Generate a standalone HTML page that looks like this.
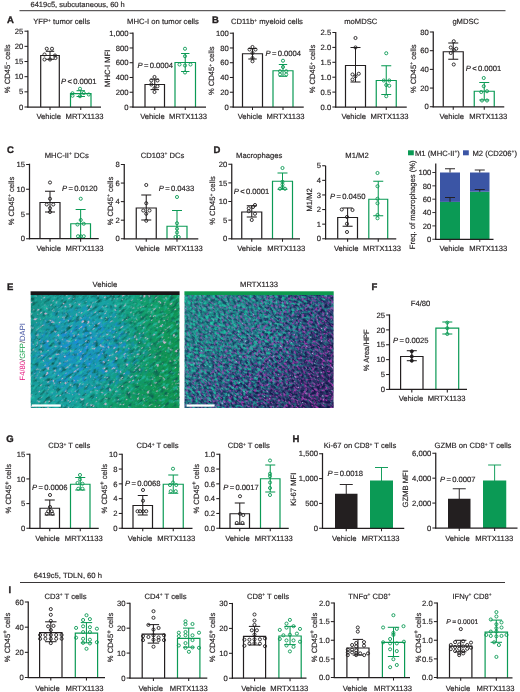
<!DOCTYPE html>
<html lang="en"><head><meta charset="utf-8"><title>Figure</title>
<style>
html,body{margin:0;padding:0;background:#fff;}
body{width:520px;height:692px;overflow:hidden;}
svg{display:block;text-rendering:geometricPrecision;font-family:"Liberation Sans",Arial,Helvetica,sans-serif;}
</style></head><body>
<svg width="520" height="692" viewBox="0 0 520 692">
<rect width="520" height="692" fill="#fff"/>
<text x="30.50" y="6.60" text-anchor="start" font-size="7.5" fill="#231f20" stroke="#231f20" stroke-width="0.17">6419c5, subcutaneous, 60 h</text>
<line x1="19.50" y1="10.70" x2="505.50" y2="10.70" stroke="#231f20" stroke-width="0.9"/>
<text x="6.90" y="23.00" text-anchor="start" font-size="9.5" fill="#231f20" font-weight="bold" stroke="#231f20" stroke-width="0.35">A</text>
<text x="212.00" y="23.00" text-anchor="start" font-size="9.5" fill="#231f20" font-weight="bold" stroke="#231f20" stroke-width="0.35">B</text>
<path d="M40.70 107.00V55.50H59.30V107.00" fill="#fff" stroke="#231f20" stroke-width="1.2"/>
<line x1="50.00" y1="107.00" x2="50.00" y2="110.00" stroke="#231f20" stroke-width="1.05"/>
<line x1="50.00" y1="51.30" x2="50.00" y2="59.30" stroke="#231f20" stroke-width="1.05"/>
<line x1="45.80" y1="51.30" x2="54.20" y2="51.30" stroke="#231f20" stroke-width="1.05"/>
<line x1="45.80" y1="59.30" x2="54.20" y2="59.30" stroke="#231f20" stroke-width="1.05"/>
<circle cx="46.75" cy="48.75" r="1.55" fill="none" stroke="#231f20" stroke-width="0.9"/>
<circle cx="52.00" cy="48.75" r="1.55" fill="none" stroke="#231f20" stroke-width="0.9"/>
<circle cx="44.50" cy="54.50" r="1.55" fill="none" stroke="#231f20" stroke-width="0.9"/>
<circle cx="55.00" cy="55.50" r="1.55" fill="none" stroke="#231f20" stroke-width="0.9"/>
<circle cx="44.50" cy="59.50" r="1.55" fill="none" stroke="#231f20" stroke-width="0.9"/>
<circle cx="50.00" cy="59.50" r="1.55" fill="none" stroke="#231f20" stroke-width="0.9"/>
<circle cx="55.50" cy="58.00" r="1.55" fill="none" stroke="#231f20" stroke-width="0.9"/>
<path d="M70.50 107.00V93.70H91.00V107.00" fill="#fff" stroke="#0b9a55" stroke-width="1.2"/>
<line x1="80.75" y1="107.00" x2="80.75" y2="110.00" stroke="#231f20" stroke-width="1.05"/>
<line x1="80.75" y1="90.70" x2="80.75" y2="96.50" stroke="#0b9a55" stroke-width="1.05"/>
<line x1="76.55" y1="90.70" x2="84.95" y2="90.70" stroke="#0b9a55" stroke-width="1.05"/>
<line x1="76.55" y1="96.50" x2="84.95" y2="96.50" stroke="#0b9a55" stroke-width="1.05"/>
<circle cx="80.00" cy="88.75" r="1.55" fill="none" stroke="#0b9a55" stroke-width="0.9"/>
<circle cx="72.50" cy="93.25" r="1.55" fill="none" stroke="#0b9a55" stroke-width="0.9"/>
<circle cx="83.75" cy="93.00" r="1.55" fill="none" stroke="#0b9a55" stroke-width="0.9"/>
<circle cx="88.75" cy="94.50" r="1.55" fill="none" stroke="#0b9a55" stroke-width="0.9"/>
<circle cx="72.50" cy="95.75" r="1.55" fill="none" stroke="#0b9a55" stroke-width="0.9"/>
<circle cx="80.00" cy="96.25" r="1.55" fill="none" stroke="#0b9a55" stroke-width="0.9"/>
<line x1="27.90" y1="30.60" x2="27.90" y2="107.60" stroke="#231f20" stroke-width="1.25"/>
<line x1="27.30" y1="107.00" x2="101.00" y2="107.00" stroke="#231f20" stroke-width="1.25"/>
<line x1="24.50" y1="107.00" x2="27.90" y2="107.00" stroke="#231f20" stroke-width="1.05"/>
<text x="23.30" y="109.65" text-anchor="end" font-size="7.65" fill="#231f20" stroke="#231f20" stroke-width="0.17">0</text>
<line x1="24.50" y1="91.84" x2="27.90" y2="91.84" stroke="#231f20" stroke-width="1.05"/>
<text x="23.30" y="94.49" text-anchor="end" font-size="7.65" fill="#231f20" stroke="#231f20" stroke-width="0.17">5</text>
<line x1="24.50" y1="76.68" x2="27.90" y2="76.68" stroke="#231f20" stroke-width="1.05"/>
<text x="23.30" y="79.33" text-anchor="end" font-size="7.65" fill="#231f20" stroke="#231f20" stroke-width="0.17">10</text>
<line x1="24.50" y1="61.52" x2="27.90" y2="61.52" stroke="#231f20" stroke-width="1.05"/>
<text x="23.30" y="64.17" text-anchor="end" font-size="7.65" fill="#231f20" stroke="#231f20" stroke-width="0.17">15</text>
<line x1="24.50" y1="46.36" x2="27.90" y2="46.36" stroke="#231f20" stroke-width="1.05"/>
<text x="23.30" y="49.01" text-anchor="end" font-size="7.65" fill="#231f20" stroke="#231f20" stroke-width="0.17">20</text>
<line x1="24.50" y1="31.20" x2="27.90" y2="31.20" stroke="#231f20" stroke-width="1.05"/>
<text x="23.30" y="33.85" text-anchor="end" font-size="7.65" fill="#231f20" stroke="#231f20" stroke-width="0.17">25</text>
<text x="61.60" y="24.30" text-anchor="middle" font-size="7.65" fill="#231f20" stroke="#231f20" stroke-width="0.17">YFP<tspan dy="-2.5" font-size="4.8">+</tspan><tspan dy="2.5" font-size="1">&#8203;</tspan> tumor cells</text>
<text x="10.20" y="68.80" text-anchor="middle" font-size="7.65" fill="#231f20" transform="rotate(-90 10.20 68.80)" stroke="#231f20" stroke-width="0.17">% CD45<tspan dy="-2.5" font-size="4.8">−</tspan><tspan dy="2.5" font-size="1">&#8203;</tspan> cells</text>
<text x="48.70" y="119.30" text-anchor="middle" font-size="7.65" fill="#231f20" stroke="#231f20" stroke-width="0.17">Vehicle</text>
<text x="84.50" y="119.30" text-anchor="middle" font-size="7.65" fill="#231f20" stroke="#231f20" stroke-width="0.17">MRTX1133</text>
<text x="61.00" y="83.60" text-anchor="start" font-size="7.65" fill="#231f20" stroke="#231f20" stroke-width="0.17"><tspan font-style="italic">P</tspan><tspan dx="1.3">&lt;</tspan><tspan dx="1.3">0.0001</tspan></text>
<path d="M145.00 107.00V84.50H164.50V107.00" fill="#fff" stroke="#231f20" stroke-width="1.2"/>
<line x1="154.75" y1="107.00" x2="154.75" y2="110.00" stroke="#231f20" stroke-width="1.05"/>
<line x1="154.75" y1="79.20" x2="154.75" y2="89.60" stroke="#231f20" stroke-width="1.05"/>
<line x1="150.55" y1="79.20" x2="158.95" y2="79.20" stroke="#231f20" stroke-width="1.05"/>
<line x1="150.55" y1="89.60" x2="158.95" y2="89.60" stroke="#231f20" stroke-width="1.05"/>
<circle cx="154.50" cy="77.00" r="1.55" fill="none" stroke="#231f20" stroke-width="0.9"/>
<circle cx="151.25" cy="80.50" r="1.55" fill="none" stroke="#231f20" stroke-width="0.9"/>
<circle cx="157.50" cy="80.50" r="1.55" fill="none" stroke="#231f20" stroke-width="0.9"/>
<circle cx="151.25" cy="84.50" r="1.55" fill="none" stroke="#231f20" stroke-width="0.9"/>
<circle cx="157.50" cy="86.25" r="1.55" fill="none" stroke="#231f20" stroke-width="0.9"/>
<circle cx="154.50" cy="88.25" r="1.55" fill="none" stroke="#231f20" stroke-width="0.9"/>
<circle cx="154.50" cy="92.00" r="1.55" fill="none" stroke="#231f20" stroke-width="0.9"/>
<path d="M175.00 107.00V62.50H195.50V107.00" fill="#fff" stroke="#0b9a55" stroke-width="1.2"/>
<line x1="185.25" y1="107.00" x2="185.25" y2="110.00" stroke="#231f20" stroke-width="1.05"/>
<line x1="185.25" y1="53.50" x2="185.25" y2="71.50" stroke="#0b9a55" stroke-width="1.05"/>
<line x1="181.05" y1="53.50" x2="189.45" y2="53.50" stroke="#0b9a55" stroke-width="1.05"/>
<line x1="181.05" y1="71.50" x2="189.45" y2="71.50" stroke="#0b9a55" stroke-width="1.05"/>
<circle cx="185.00" cy="48.75" r="1.55" fill="none" stroke="#0b9a55" stroke-width="0.9"/>
<circle cx="185.00" cy="56.25" r="1.55" fill="none" stroke="#0b9a55" stroke-width="0.9"/>
<circle cx="179.50" cy="64.50" r="1.55" fill="none" stroke="#0b9a55" stroke-width="0.9"/>
<circle cx="185.00" cy="65.50" r="1.55" fill="none" stroke="#0b9a55" stroke-width="0.9"/>
<circle cx="190.50" cy="64.50" r="1.55" fill="none" stroke="#0b9a55" stroke-width="0.9"/>
<circle cx="185.00" cy="72.50" r="1.55" fill="none" stroke="#0b9a55" stroke-width="0.9"/>
<line x1="133.00" y1="32.60" x2="133.00" y2="107.60" stroke="#231f20" stroke-width="1.25"/>
<line x1="132.40" y1="107.00" x2="206.00" y2="107.00" stroke="#231f20" stroke-width="1.25"/>
<line x1="129.60" y1="107.00" x2="133.00" y2="107.00" stroke="#231f20" stroke-width="1.05"/>
<text x="128.40" y="109.65" text-anchor="end" font-size="7.65" fill="#231f20" stroke="#231f20" stroke-width="0.17">0</text>
<line x1="129.60" y1="92.24" x2="133.00" y2="92.24" stroke="#231f20" stroke-width="1.05"/>
<text x="128.40" y="94.89" text-anchor="end" font-size="7.65" fill="#231f20" stroke="#231f20" stroke-width="0.17">200</text>
<line x1="129.60" y1="77.48" x2="133.00" y2="77.48" stroke="#231f20" stroke-width="1.05"/>
<text x="128.40" y="80.13" text-anchor="end" font-size="7.65" fill="#231f20" stroke="#231f20" stroke-width="0.17">400</text>
<line x1="129.60" y1="62.72" x2="133.00" y2="62.72" stroke="#231f20" stroke-width="1.05"/>
<text x="128.40" y="65.37" text-anchor="end" font-size="7.65" fill="#231f20" stroke="#231f20" stroke-width="0.17">600</text>
<line x1="129.60" y1="47.96" x2="133.00" y2="47.96" stroke="#231f20" stroke-width="1.05"/>
<text x="128.40" y="50.61" text-anchor="end" font-size="7.65" fill="#231f20" stroke="#231f20" stroke-width="0.17">800</text>
<line x1="129.60" y1="33.20" x2="133.00" y2="33.20" stroke="#231f20" stroke-width="1.05"/>
<text x="128.40" y="35.85" text-anchor="end" font-size="7.65" fill="#231f20" stroke="#231f20" stroke-width="0.17">1,000</text>
<text x="163.00" y="24.30" text-anchor="middle" font-size="7.65" fill="#231f20" stroke="#231f20" stroke-width="0.17">MHC-I on tumor cells</text>
<text x="110.50" y="68.20" text-anchor="middle" font-size="7.65" fill="#231f20" transform="rotate(-90 110.50 68.20)" stroke="#231f20" stroke-width="0.17">MHC-I MFI</text>
<text x="152.50" y="119.30" text-anchor="middle" font-size="7.65" fill="#231f20" stroke="#231f20" stroke-width="0.17">Vehicle</text>
<text x="188.00" y="119.30" text-anchor="middle" font-size="7.65" fill="#231f20" stroke="#231f20" stroke-width="0.17">MRTX1133</text>
<text x="137.50" y="68.10" text-anchor="start" font-size="7.65" fill="#231f20" stroke="#231f20" stroke-width="0.17"><tspan font-style="italic">P</tspan><tspan dx="1.3">=</tspan><tspan dx="1.3">0.0004</tspan></text>
<path d="M242.50 107.00V53.75H262.50V107.00" fill="#fff" stroke="#231f20" stroke-width="1.2"/>
<line x1="252.50" y1="107.00" x2="252.50" y2="110.00" stroke="#231f20" stroke-width="1.05"/>
<line x1="252.50" y1="48.50" x2="252.50" y2="59.00" stroke="#231f20" stroke-width="1.05"/>
<line x1="248.30" y1="48.50" x2="256.70" y2="48.50" stroke="#231f20" stroke-width="1.05"/>
<line x1="248.30" y1="59.00" x2="256.70" y2="59.00" stroke="#231f20" stroke-width="1.05"/>
<circle cx="252.50" cy="47.00" r="1.55" fill="none" stroke="#231f20" stroke-width="0.9"/>
<circle cx="249.50" cy="49.50" r="1.55" fill="none" stroke="#231f20" stroke-width="0.9"/>
<circle cx="255.50" cy="49.50" r="1.55" fill="none" stroke="#231f20" stroke-width="0.9"/>
<circle cx="252.50" cy="53.00" r="1.55" fill="none" stroke="#231f20" stroke-width="0.9"/>
<circle cx="252.50" cy="58.00" r="1.55" fill="none" stroke="#231f20" stroke-width="0.9"/>
<circle cx="252.50" cy="61.25" r="1.55" fill="none" stroke="#231f20" stroke-width="0.9"/>
<path d="M273.00 107.00V70.75H293.00V107.00" fill="#fff" stroke="#0b9a55" stroke-width="1.2"/>
<line x1="283.00" y1="107.00" x2="283.00" y2="110.00" stroke="#231f20" stroke-width="1.05"/>
<line x1="283.00" y1="64.50" x2="283.00" y2="76.30" stroke="#0b9a55" stroke-width="1.05"/>
<line x1="278.80" y1="64.50" x2="287.20" y2="64.50" stroke="#0b9a55" stroke-width="1.05"/>
<line x1="278.80" y1="76.30" x2="287.20" y2="76.30" stroke="#0b9a55" stroke-width="1.05"/>
<circle cx="283.00" cy="60.75" r="1.55" fill="none" stroke="#0b9a55" stroke-width="0.9"/>
<circle cx="283.00" cy="67.00" r="1.55" fill="none" stroke="#0b9a55" stroke-width="0.9"/>
<circle cx="280.00" cy="71.25" r="1.55" fill="none" stroke="#0b9a55" stroke-width="0.9"/>
<circle cx="286.25" cy="71.25" r="1.55" fill="none" stroke="#0b9a55" stroke-width="0.9"/>
<circle cx="280.00" cy="74.50" r="1.55" fill="none" stroke="#0b9a55" stroke-width="0.9"/>
<circle cx="286.25" cy="74.50" r="1.55" fill="none" stroke="#0b9a55" stroke-width="0.9"/>
<line x1="233.25" y1="32.60" x2="233.25" y2="107.60" stroke="#231f20" stroke-width="1.25"/>
<line x1="232.65" y1="107.00" x2="303.75" y2="107.00" stroke="#231f20" stroke-width="1.25"/>
<line x1="229.85" y1="107.00" x2="233.25" y2="107.00" stroke="#231f20" stroke-width="1.05"/>
<text x="228.65" y="109.65" text-anchor="end" font-size="7.65" fill="#231f20" stroke="#231f20" stroke-width="0.17">0</text>
<line x1="229.85" y1="92.24" x2="233.25" y2="92.24" stroke="#231f20" stroke-width="1.05"/>
<text x="228.65" y="94.89" text-anchor="end" font-size="7.65" fill="#231f20" stroke="#231f20" stroke-width="0.17">20</text>
<line x1="229.85" y1="77.48" x2="233.25" y2="77.48" stroke="#231f20" stroke-width="1.05"/>
<text x="228.65" y="80.13" text-anchor="end" font-size="7.65" fill="#231f20" stroke="#231f20" stroke-width="0.17">40</text>
<line x1="229.85" y1="62.72" x2="233.25" y2="62.72" stroke="#231f20" stroke-width="1.05"/>
<text x="228.65" y="65.37" text-anchor="end" font-size="7.65" fill="#231f20" stroke="#231f20" stroke-width="0.17">60</text>
<line x1="229.85" y1="47.96" x2="233.25" y2="47.96" stroke="#231f20" stroke-width="1.05"/>
<text x="228.65" y="50.61" text-anchor="end" font-size="7.65" fill="#231f20" stroke="#231f20" stroke-width="0.17">80</text>
<line x1="229.85" y1="33.20" x2="233.25" y2="33.20" stroke="#231f20" stroke-width="1.05"/>
<text x="228.65" y="35.85" text-anchor="end" font-size="7.65" fill="#231f20" stroke="#231f20" stroke-width="0.17">100</text>
<text x="267.00" y="24.30" text-anchor="middle" font-size="7.65" fill="#231f20" stroke="#231f20" stroke-width="0.17">CD11b<tspan dy="-2.5" font-size="4.8">+</tspan><tspan dy="2.5" font-size="1">&#8203;</tspan> myeloid cells</text>
<text x="214.30" y="70.75" text-anchor="middle" font-size="7.65" fill="#231f20" transform="rotate(-90 214.30 70.75)" stroke="#231f20" stroke-width="0.17">% CD45<tspan dy="-2.5" font-size="4.8">+</tspan><tspan dy="2.5" font-size="1">&#8203;</tspan> cells</text>
<text x="250.00" y="119.30" text-anchor="middle" font-size="7.65" fill="#231f20" stroke="#231f20" stroke-width="0.17">Vehicle</text>
<text x="285.50" y="119.30" text-anchor="middle" font-size="7.65" fill="#231f20" stroke="#231f20" stroke-width="0.17">MRTX1133</text>
<text x="265.50" y="55.60" text-anchor="start" font-size="7.65" fill="#231f20" stroke="#231f20" stroke-width="0.17"><tspan font-style="italic">P</tspan><tspan dx="1.3">=</tspan><tspan dx="1.3">0.0004</tspan></text>
<path d="M345.50 107.00V65.50H365.50V107.00" fill="#fff" stroke="#231f20" stroke-width="1.2"/>
<line x1="355.50" y1="107.00" x2="355.50" y2="110.00" stroke="#231f20" stroke-width="1.05"/>
<line x1="355.50" y1="47.50" x2="355.50" y2="82.00" stroke="#231f20" stroke-width="1.05"/>
<line x1="350.50" y1="47.50" x2="360.50" y2="47.50" stroke="#231f20" stroke-width="1.05"/>
<line x1="350.50" y1="82.00" x2="360.50" y2="82.00" stroke="#231f20" stroke-width="1.05"/>
<circle cx="355.50" cy="38.00" r="1.55" fill="none" stroke="#231f20" stroke-width="0.9"/>
<circle cx="355.50" cy="47.50" r="1.55" fill="none" stroke="#231f20" stroke-width="0.9"/>
<circle cx="352.50" cy="74.50" r="1.55" fill="none" stroke="#231f20" stroke-width="0.9"/>
<circle cx="358.75" cy="73.75" r="1.55" fill="none" stroke="#231f20" stroke-width="0.9"/>
<circle cx="355.50" cy="76.25" r="1.55" fill="none" stroke="#231f20" stroke-width="0.9"/>
<circle cx="352.50" cy="79.50" r="1.55" fill="none" stroke="#231f20" stroke-width="0.9"/>
<path d="M376.25 107.00V80.50H396.25V107.00" fill="#fff" stroke="#0b9a55" stroke-width="1.2"/>
<line x1="386.25" y1="107.00" x2="386.25" y2="110.00" stroke="#231f20" stroke-width="1.05"/>
<line x1="386.25" y1="65.75" x2="386.25" y2="94.50" stroke="#0b9a55" stroke-width="1.05"/>
<line x1="381.25" y1="65.75" x2="391.25" y2="65.75" stroke="#0b9a55" stroke-width="1.05"/>
<line x1="381.25" y1="94.50" x2="391.25" y2="94.50" stroke="#0b9a55" stroke-width="1.05"/>
<circle cx="386.25" cy="53.25" r="1.55" fill="none" stroke="#0b9a55" stroke-width="0.9"/>
<circle cx="383.75" cy="80.50" r="1.55" fill="none" stroke="#0b9a55" stroke-width="0.9"/>
<circle cx="389.25" cy="80.50" r="1.55" fill="none" stroke="#0b9a55" stroke-width="0.9"/>
<circle cx="386.25" cy="85.00" r="1.55" fill="none" stroke="#0b9a55" stroke-width="0.9"/>
<circle cx="389.25" cy="85.75" r="1.55" fill="none" stroke="#0b9a55" stroke-width="0.9"/>
<circle cx="386.25" cy="96.25" r="1.55" fill="none" stroke="#0b9a55" stroke-width="0.9"/>
<line x1="335.75" y1="31.90" x2="335.75" y2="107.60" stroke="#231f20" stroke-width="1.25"/>
<line x1="335.15" y1="107.00" x2="406.75" y2="107.00" stroke="#231f20" stroke-width="1.25"/>
<line x1="332.35" y1="107.00" x2="335.75" y2="107.00" stroke="#231f20" stroke-width="1.05"/>
<text x="331.15" y="109.65" text-anchor="end" font-size="7.65" fill="#231f20" stroke="#231f20" stroke-width="0.17">0.0</text>
<line x1="332.35" y1="92.10" x2="335.75" y2="92.10" stroke="#231f20" stroke-width="1.05"/>
<text x="331.15" y="94.75" text-anchor="end" font-size="7.65" fill="#231f20" stroke="#231f20" stroke-width="0.17">0.5</text>
<line x1="332.35" y1="77.20" x2="335.75" y2="77.20" stroke="#231f20" stroke-width="1.05"/>
<text x="331.15" y="79.85" text-anchor="end" font-size="7.65" fill="#231f20" stroke="#231f20" stroke-width="0.17">1.0</text>
<line x1="332.35" y1="62.30" x2="335.75" y2="62.30" stroke="#231f20" stroke-width="1.05"/>
<text x="331.15" y="64.95" text-anchor="end" font-size="7.65" fill="#231f20" stroke="#231f20" stroke-width="0.17">1.5</text>
<line x1="332.35" y1="47.40" x2="335.75" y2="47.40" stroke="#231f20" stroke-width="1.05"/>
<text x="331.15" y="50.05" text-anchor="end" font-size="7.65" fill="#231f20" stroke="#231f20" stroke-width="0.17">2.0</text>
<line x1="332.35" y1="32.50" x2="335.75" y2="32.50" stroke="#231f20" stroke-width="1.05"/>
<text x="331.15" y="35.15" text-anchor="end" font-size="7.65" fill="#231f20" stroke="#231f20" stroke-width="0.17">2.5</text>
<text x="360.75" y="24.30" text-anchor="middle" font-size="7.65" fill="#231f20" stroke="#231f20" stroke-width="0.17">moMDSC</text>
<text x="315.00" y="69.00" text-anchor="middle" font-size="7.65" fill="#231f20" transform="rotate(-90 315.00 69.00)" stroke="#231f20" stroke-width="0.17">% CD45<tspan dy="-2.5" font-size="4.8">+</tspan><tspan dy="2.5" font-size="1">&#8203;</tspan> cells</text>
<text x="353.75" y="119.30" text-anchor="middle" font-size="7.65" fill="#231f20" stroke="#231f20" stroke-width="0.17">Vehicle</text>
<text x="389.50" y="119.30" text-anchor="middle" font-size="7.65" fill="#231f20" stroke="#231f20" stroke-width="0.17">MRTX1133</text>
<path d="M443.25 106.75V51.75H463.25V106.75" fill="#fff" stroke="#231f20" stroke-width="1.2"/>
<line x1="453.25" y1="106.75" x2="453.25" y2="109.75" stroke="#231f20" stroke-width="1.05"/>
<line x1="453.25" y1="43.00" x2="453.25" y2="59.25" stroke="#231f20" stroke-width="1.05"/>
<line x1="448.25" y1="43.00" x2="458.25" y2="43.00" stroke="#231f20" stroke-width="1.05"/>
<line x1="448.25" y1="59.25" x2="458.25" y2="59.25" stroke="#231f20" stroke-width="1.05"/>
<circle cx="453.75" cy="41.25" r="1.55" fill="none" stroke="#231f20" stroke-width="0.9"/>
<circle cx="450.75" cy="47.50" r="1.55" fill="none" stroke="#231f20" stroke-width="0.9"/>
<circle cx="456.25" cy="48.75" r="1.55" fill="none" stroke="#231f20" stroke-width="0.9"/>
<circle cx="453.75" cy="50.00" r="1.55" fill="none" stroke="#231f20" stroke-width="0.9"/>
<circle cx="450.75" cy="53.00" r="1.55" fill="none" stroke="#231f20" stroke-width="0.9"/>
<circle cx="453.75" cy="64.50" r="1.55" fill="none" stroke="#231f20" stroke-width="0.9"/>
<path d="M474.25 106.75V91.25H494.25V106.75" fill="#fff" stroke="#0b9a55" stroke-width="1.2"/>
<line x1="484.25" y1="106.75" x2="484.25" y2="109.75" stroke="#231f20" stroke-width="1.05"/>
<line x1="484.25" y1="82.50" x2="484.25" y2="100.00" stroke="#0b9a55" stroke-width="1.05"/>
<line x1="479.25" y1="82.50" x2="489.25" y2="82.50" stroke="#0b9a55" stroke-width="1.05"/>
<line x1="479.25" y1="100.00" x2="489.25" y2="100.00" stroke="#0b9a55" stroke-width="1.05"/>
<circle cx="483.75" cy="78.00" r="1.55" fill="none" stroke="#0b9a55" stroke-width="0.9"/>
<circle cx="483.75" cy="86.25" r="1.55" fill="none" stroke="#0b9a55" stroke-width="0.9"/>
<circle cx="481.25" cy="92.00" r="1.55" fill="none" stroke="#0b9a55" stroke-width="0.9"/>
<circle cx="487.00" cy="91.25" r="1.55" fill="none" stroke="#0b9a55" stroke-width="0.9"/>
<circle cx="482.00" cy="100.50" r="1.55" fill="none" stroke="#0b9a55" stroke-width="0.9"/>
<circle cx="487.00" cy="100.50" r="1.55" fill="none" stroke="#0b9a55" stroke-width="0.9"/>
<line x1="433.25" y1="31.40" x2="433.25" y2="107.35" stroke="#231f20" stroke-width="1.25"/>
<line x1="432.65" y1="106.75" x2="504.25" y2="106.75" stroke="#231f20" stroke-width="1.25"/>
<line x1="429.85" y1="106.75" x2="433.25" y2="106.75" stroke="#231f20" stroke-width="1.05"/>
<text x="428.65" y="109.40" text-anchor="end" font-size="7.65" fill="#231f20" stroke="#231f20" stroke-width="0.17">0</text>
<line x1="429.85" y1="88.06" x2="433.25" y2="88.06" stroke="#231f20" stroke-width="1.05"/>
<text x="428.65" y="90.71" text-anchor="end" font-size="7.65" fill="#231f20" stroke="#231f20" stroke-width="0.17">20</text>
<line x1="429.85" y1="69.38" x2="433.25" y2="69.38" stroke="#231f20" stroke-width="1.05"/>
<text x="428.65" y="72.03" text-anchor="end" font-size="7.65" fill="#231f20" stroke="#231f20" stroke-width="0.17">40</text>
<line x1="429.85" y1="50.69" x2="433.25" y2="50.69" stroke="#231f20" stroke-width="1.05"/>
<text x="428.65" y="53.34" text-anchor="end" font-size="7.65" fill="#231f20" stroke="#231f20" stroke-width="0.17">60</text>
<line x1="429.85" y1="32.00" x2="433.25" y2="32.00" stroke="#231f20" stroke-width="1.05"/>
<text x="428.65" y="34.65" text-anchor="end" font-size="7.65" fill="#231f20" stroke="#231f20" stroke-width="0.17">80</text>
<text x="465.75" y="24.30" text-anchor="middle" font-size="7.65" fill="#231f20" stroke="#231f20" stroke-width="0.17">gMDSC</text>
<text x="415.50" y="68.75" text-anchor="middle" font-size="7.65" fill="#231f20" transform="rotate(-90 415.50 68.75)" stroke="#231f20" stroke-width="0.17">% CD45<tspan dy="-2.5" font-size="4.8">+</tspan><tspan dy="2.5" font-size="1">&#8203;</tspan> cells</text>
<text x="451.75" y="119.30" text-anchor="middle" font-size="7.65" fill="#231f20" stroke="#231f20" stroke-width="0.17">Vehicle</text>
<text x="488.25" y="119.30" text-anchor="middle" font-size="7.65" fill="#231f20" stroke="#231f20" stroke-width="0.17">MRTX1133</text>
<text x="465.75" y="70.60" text-anchor="start" font-size="7.65" fill="#231f20" stroke="#231f20" stroke-width="0.17"><tspan font-style="italic">P</tspan><tspan dx="1.3">&lt;</tspan><tspan dx="1.3">0.0001</tspan></text>
<text x="7.00" y="153.30" text-anchor="start" font-size="9.5" fill="#231f20" font-weight="bold" stroke="#231f20" stroke-width="0.35">C</text>
<text x="213.50" y="153.30" text-anchor="start" font-size="9.5" fill="#231f20" font-weight="bold" stroke="#231f20" stroke-width="0.35">D</text>
<path d="M40.00 238.70V202.50H60.00V238.70" fill="#fff" stroke="#231f20" stroke-width="1.2"/>
<line x1="50.00" y1="238.70" x2="50.00" y2="241.70" stroke="#231f20" stroke-width="1.05"/>
<line x1="50.00" y1="191.25" x2="50.00" y2="212.00" stroke="#231f20" stroke-width="1.05"/>
<line x1="45.00" y1="191.25" x2="55.00" y2="191.25" stroke="#231f20" stroke-width="1.05"/>
<line x1="45.00" y1="212.00" x2="55.00" y2="212.00" stroke="#231f20" stroke-width="1.05"/>
<circle cx="50.00" cy="182.50" r="1.55" fill="none" stroke="#231f20" stroke-width="0.9"/>
<circle cx="50.00" cy="198.75" r="1.55" fill="none" stroke="#231f20" stroke-width="0.9"/>
<circle cx="46.75" cy="204.50" r="1.55" fill="none" stroke="#231f20" stroke-width="0.9"/>
<circle cx="53.25" cy="204.50" r="1.55" fill="none" stroke="#231f20" stroke-width="0.9"/>
<circle cx="50.00" cy="208.25" r="1.55" fill="none" stroke="#231f20" stroke-width="0.9"/>
<circle cx="50.00" cy="212.00" r="1.55" fill="none" stroke="#231f20" stroke-width="0.9"/>
<path d="M70.75 238.70V223.75H90.50V238.70" fill="#fff" stroke="#0b9a55" stroke-width="1.2"/>
<line x1="80.62" y1="238.70" x2="80.62" y2="241.70" stroke="#231f20" stroke-width="1.05"/>
<line x1="80.62" y1="209.50" x2="80.62" y2="238.00" stroke="#0b9a55" stroke-width="1.05"/>
<line x1="75.62" y1="209.50" x2="85.62" y2="209.50" stroke="#0b9a55" stroke-width="1.05"/>
<circle cx="80.75" cy="198.75" r="1.55" fill="none" stroke="#0b9a55" stroke-width="0.9"/>
<circle cx="80.75" cy="220.00" r="1.55" fill="none" stroke="#0b9a55" stroke-width="0.9"/>
<circle cx="77.50" cy="224.50" r="1.55" fill="none" stroke="#0b9a55" stroke-width="0.9"/>
<circle cx="83.75" cy="223.75" r="1.55" fill="none" stroke="#0b9a55" stroke-width="0.9"/>
<circle cx="78.00" cy="236.25" r="1.55" fill="none" stroke="#0b9a55" stroke-width="0.9"/>
<circle cx="83.75" cy="236.25" r="1.55" fill="none" stroke="#0b9a55" stroke-width="0.9"/>
<circle cx="80.75" cy="236.25" r="1.55" fill="none" stroke="#0b9a55" stroke-width="0.9"/>
<line x1="29.50" y1="163.70" x2="29.50" y2="239.30" stroke="#231f20" stroke-width="1.25"/>
<line x1="28.90" y1="238.70" x2="98.75" y2="238.70" stroke="#231f20" stroke-width="1.25"/>
<line x1="26.10" y1="238.75" x2="29.50" y2="238.75" stroke="#231f20" stroke-width="1.05"/>
<text x="24.90" y="241.40" text-anchor="end" font-size="7.65" fill="#231f20" stroke="#231f20" stroke-width="0.17">0</text>
<line x1="26.10" y1="214.00" x2="29.50" y2="214.00" stroke="#231f20" stroke-width="1.05"/>
<text x="24.90" y="216.65" text-anchor="end" font-size="7.65" fill="#231f20" stroke="#231f20" stroke-width="0.17">5</text>
<line x1="26.10" y1="189.25" x2="29.50" y2="189.25" stroke="#231f20" stroke-width="1.05"/>
<text x="24.90" y="191.90" text-anchor="end" font-size="7.65" fill="#231f20" stroke="#231f20" stroke-width="0.17">10</text>
<line x1="26.10" y1="164.50" x2="29.50" y2="164.50" stroke="#231f20" stroke-width="1.05"/>
<text x="24.90" y="167.15" text-anchor="end" font-size="7.65" fill="#231f20" stroke="#231f20" stroke-width="0.17">15</text>
<text x="66.75" y="157.60" text-anchor="middle" font-size="7.65" fill="#231f20" stroke="#231f20" stroke-width="0.17">MHC-II<tspan dy="-2.5" font-size="4.8">+</tspan><tspan dy="2.5" font-size="1">&#8203;</tspan> DCs</text>
<text x="13.70" y="201.00" text-anchor="middle" font-size="7.65" fill="#231f20" transform="rotate(-90 13.70 201.00)" stroke="#231f20" stroke-width="0.17">% CD45<tspan dy="-2.5" font-size="4.8">+</tspan><tspan dy="2.5" font-size="1">&#8203;</tspan> cells</text>
<text x="48.75" y="250.80" text-anchor="middle" font-size="7.65" fill="#231f20" stroke="#231f20" stroke-width="0.17">Vehicle</text>
<text x="84.50" y="250.80" text-anchor="middle" font-size="7.65" fill="#231f20" stroke="#231f20" stroke-width="0.17">MRTX1133</text>
<text x="62.00" y="191.40" text-anchor="start" font-size="7.65" fill="#231f20" stroke="#231f20" stroke-width="0.17"><tspan font-style="italic">P</tspan><tspan dx="1.3">=</tspan><tspan dx="1.3">0.0120</tspan></text>
<path d="M136.25 238.75V208.00H156.25V238.75" fill="#fff" stroke="#231f20" stroke-width="1.2"/>
<line x1="146.25" y1="238.75" x2="146.25" y2="241.75" stroke="#231f20" stroke-width="1.05"/>
<line x1="146.25" y1="195.00" x2="146.25" y2="220.00" stroke="#231f20" stroke-width="1.05"/>
<line x1="141.25" y1="195.00" x2="151.25" y2="195.00" stroke="#231f20" stroke-width="1.05"/>
<line x1="141.25" y1="220.00" x2="151.25" y2="220.00" stroke="#231f20" stroke-width="1.05"/>
<circle cx="146.25" cy="185.00" r="1.55" fill="none" stroke="#231f20" stroke-width="0.9"/>
<circle cx="146.25" cy="203.25" r="1.55" fill="none" stroke="#231f20" stroke-width="0.9"/>
<circle cx="143.25" cy="210.50" r="1.55" fill="none" stroke="#231f20" stroke-width="0.9"/>
<circle cx="149.50" cy="210.50" r="1.55" fill="none" stroke="#231f20" stroke-width="0.9"/>
<circle cx="146.25" cy="213.75" r="1.55" fill="none" stroke="#231f20" stroke-width="0.9"/>
<circle cx="146.25" cy="220.75" r="1.55" fill="none" stroke="#231f20" stroke-width="0.9"/>
<path d="M167.00 238.75V226.25H187.00V238.75" fill="#fff" stroke="#0b9a55" stroke-width="1.2"/>
<line x1="177.00" y1="238.75" x2="177.00" y2="241.75" stroke="#231f20" stroke-width="1.05"/>
<line x1="177.00" y1="210.50" x2="177.00" y2="238.00" stroke="#0b9a55" stroke-width="1.05"/>
<line x1="172.00" y1="210.50" x2="182.00" y2="210.50" stroke="#0b9a55" stroke-width="1.05"/>
<circle cx="177.00" cy="197.00" r="1.55" fill="none" stroke="#0b9a55" stroke-width="0.9"/>
<circle cx="177.00" cy="223.25" r="1.55" fill="none" stroke="#0b9a55" stroke-width="0.9"/>
<circle cx="177.00" cy="228.75" r="1.55" fill="none" stroke="#0b9a55" stroke-width="0.9"/>
<circle cx="175.50" cy="237.00" r="1.55" fill="none" stroke="#0b9a55" stroke-width="0.9"/>
<circle cx="178.75" cy="237.00" r="1.55" fill="none" stroke="#0b9a55" stroke-width="0.9"/>
<circle cx="177.00" cy="232.50" r="1.55" fill="none" stroke="#0b9a55" stroke-width="0.9"/>
<line x1="124.25" y1="163.90" x2="124.25" y2="239.35" stroke="#231f20" stroke-width="1.25"/>
<line x1="123.65" y1="238.75" x2="198.30" y2="238.75" stroke="#231f20" stroke-width="1.25"/>
<line x1="120.85" y1="238.75" x2="124.25" y2="238.75" stroke="#231f20" stroke-width="1.05"/>
<text x="119.65" y="241.40" text-anchor="end" font-size="7.65" fill="#231f20" stroke="#231f20" stroke-width="0.17">0</text>
<line x1="120.85" y1="220.19" x2="124.25" y2="220.19" stroke="#231f20" stroke-width="1.05"/>
<text x="119.65" y="222.84" text-anchor="end" font-size="7.65" fill="#231f20" stroke="#231f20" stroke-width="0.17">2</text>
<line x1="120.85" y1="201.62" x2="124.25" y2="201.62" stroke="#231f20" stroke-width="1.05"/>
<text x="119.65" y="204.28" text-anchor="end" font-size="7.65" fill="#231f20" stroke="#231f20" stroke-width="0.17">4</text>
<line x1="120.85" y1="183.06" x2="124.25" y2="183.06" stroke="#231f20" stroke-width="1.05"/>
<text x="119.65" y="185.71" text-anchor="end" font-size="7.65" fill="#231f20" stroke="#231f20" stroke-width="0.17">6</text>
<line x1="120.85" y1="164.50" x2="124.25" y2="164.50" stroke="#231f20" stroke-width="1.05"/>
<text x="119.65" y="167.15" text-anchor="end" font-size="7.65" fill="#231f20" stroke="#231f20" stroke-width="0.17">8</text>
<text x="162.50" y="157.60" text-anchor="middle" font-size="7.65" fill="#231f20" stroke="#231f20" stroke-width="0.17">CD103<tspan dy="-2.5" font-size="4.8">+</tspan><tspan dy="2.5" font-size="1">&#8203;</tspan> DCs</text>
<text x="112.80" y="201.00" text-anchor="middle" font-size="7.65" fill="#231f20" transform="rotate(-90 112.80 201.00)" stroke="#231f20" stroke-width="0.17">% CD45<tspan dy="-2.5" font-size="4.8">+</tspan><tspan dy="2.5" font-size="1">&#8203;</tspan> cells</text>
<text x="147.50" y="250.80" text-anchor="middle" font-size="7.65" fill="#231f20" stroke="#231f20" stroke-width="0.17">Vehicle</text>
<text x="183.70" y="250.80" text-anchor="middle" font-size="7.65" fill="#231f20" stroke="#231f20" stroke-width="0.17">MRTX1133</text>
<text x="158.75" y="191.40" text-anchor="start" font-size="7.65" fill="#231f20" stroke="#231f20" stroke-width="0.17"><tspan font-style="italic">P</tspan><tspan dx="1.3">=</tspan><tspan dx="1.3">0.0433</tspan></text>
<path d="M241.75 238.75V212.00H261.75V238.75" fill="#fff" stroke="#231f20" stroke-width="1.2"/>
<line x1="251.75" y1="238.75" x2="251.75" y2="241.75" stroke="#231f20" stroke-width="1.05"/>
<line x1="251.75" y1="205.75" x2="251.75" y2="217.00" stroke="#231f20" stroke-width="1.05"/>
<line x1="246.75" y1="205.75" x2="256.75" y2="205.75" stroke="#231f20" stroke-width="1.05"/>
<line x1="246.75" y1="217.00" x2="256.75" y2="217.00" stroke="#231f20" stroke-width="1.05"/>
<circle cx="255.00" cy="205.00" r="1.55" fill="none" stroke="#231f20" stroke-width="0.9"/>
<circle cx="253.00" cy="207.00" r="1.55" fill="none" stroke="#231f20" stroke-width="0.9"/>
<circle cx="248.75" cy="208.25" r="1.55" fill="none" stroke="#231f20" stroke-width="0.9"/>
<circle cx="248.75" cy="211.25" r="1.55" fill="none" stroke="#231f20" stroke-width="0.9"/>
<circle cx="255.00" cy="213.75" r="1.55" fill="none" stroke="#231f20" stroke-width="0.9"/>
<circle cx="251.75" cy="220.00" r="1.55" fill="none" stroke="#231f20" stroke-width="0.9"/>
<path d="M272.50 238.75V181.25H292.50V238.75" fill="#fff" stroke="#0b9a55" stroke-width="1.2"/>
<line x1="282.50" y1="238.75" x2="282.50" y2="241.75" stroke="#231f20" stroke-width="1.05"/>
<line x1="282.50" y1="173.00" x2="282.50" y2="189.25" stroke="#0b9a55" stroke-width="1.05"/>
<line x1="277.50" y1="173.00" x2="287.50" y2="173.00" stroke="#0b9a55" stroke-width="1.05"/>
<line x1="277.50" y1="189.25" x2="287.50" y2="189.25" stroke="#0b9a55" stroke-width="1.05"/>
<circle cx="282.50" cy="168.00" r="1.55" fill="none" stroke="#0b9a55" stroke-width="0.9"/>
<circle cx="282.50" cy="181.75" r="1.55" fill="none" stroke="#0b9a55" stroke-width="0.9"/>
<circle cx="282.50" cy="184.50" r="1.55" fill="none" stroke="#0b9a55" stroke-width="0.9"/>
<circle cx="280.00" cy="188.75" r="1.55" fill="none" stroke="#0b9a55" stroke-width="0.9"/>
<circle cx="285.00" cy="188.75" r="1.55" fill="none" stroke="#0b9a55" stroke-width="0.9"/>
<circle cx="282.50" cy="187.50" r="1.55" fill="none" stroke="#0b9a55" stroke-width="0.9"/>
<line x1="231.75" y1="163.65" x2="231.75" y2="239.35" stroke="#231f20" stroke-width="1.25"/>
<line x1="231.15" y1="238.75" x2="300.00" y2="238.75" stroke="#231f20" stroke-width="1.25"/>
<line x1="228.35" y1="238.75" x2="231.75" y2="238.75" stroke="#231f20" stroke-width="1.05"/>
<text x="227.15" y="241.40" text-anchor="end" font-size="7.65" fill="#231f20" stroke="#231f20" stroke-width="0.17">0</text>
<line x1="228.35" y1="220.12" x2="231.75" y2="220.12" stroke="#231f20" stroke-width="1.05"/>
<text x="227.15" y="222.78" text-anchor="end" font-size="7.65" fill="#231f20" stroke="#231f20" stroke-width="0.17">5</text>
<line x1="228.35" y1="201.50" x2="231.75" y2="201.50" stroke="#231f20" stroke-width="1.05"/>
<text x="227.15" y="204.15" text-anchor="end" font-size="7.65" fill="#231f20" stroke="#231f20" stroke-width="0.17">10</text>
<line x1="228.35" y1="182.88" x2="231.75" y2="182.88" stroke="#231f20" stroke-width="1.05"/>
<text x="227.15" y="185.53" text-anchor="end" font-size="7.65" fill="#231f20" stroke="#231f20" stroke-width="0.17">15</text>
<line x1="228.35" y1="164.25" x2="231.75" y2="164.25" stroke="#231f20" stroke-width="1.05"/>
<text x="227.15" y="166.90" text-anchor="end" font-size="7.65" fill="#231f20" stroke="#231f20" stroke-width="0.17">20</text>
<text x="259.25" y="157.60" text-anchor="middle" font-size="7.65" fill="#231f20" stroke="#231f20" stroke-width="0.17">Macrophages</text>
<text x="215.40" y="200.50" text-anchor="middle" font-size="7.65" fill="#231f20" transform="rotate(-90 215.40 200.50)" stroke="#231f20" stroke-width="0.17">% CD45<tspan dy="-2.5" font-size="4.8">+</tspan><tspan dy="2.5" font-size="1">&#8203;</tspan> cells</text>
<text x="249.50" y="250.80" text-anchor="middle" font-size="7.65" fill="#231f20" stroke="#231f20" stroke-width="0.17">Vehicle</text>
<text x="286.25" y="250.80" text-anchor="middle" font-size="7.65" fill="#231f20" stroke="#231f20" stroke-width="0.17">MRTX1133</text>
<text x="233.75" y="193.90" text-anchor="start" font-size="7.65" fill="#231f20" stroke="#231f20" stroke-width="0.17"><tspan font-style="italic">P</tspan><tspan dx="1.3">&lt;</tspan><tspan dx="1.3">0.0001</tspan></text>
<path d="M337.70 238.75V217.50H357.50V238.75" fill="#fff" stroke="#231f20" stroke-width="1.2"/>
<line x1="347.60" y1="238.75" x2="347.60" y2="241.75" stroke="#231f20" stroke-width="1.05"/>
<line x1="347.60" y1="208.00" x2="347.60" y2="226.25" stroke="#231f20" stroke-width="1.05"/>
<line x1="342.60" y1="208.00" x2="352.60" y2="208.00" stroke="#231f20" stroke-width="1.05"/>
<line x1="342.60" y1="226.25" x2="352.60" y2="226.25" stroke="#231f20" stroke-width="1.05"/>
<circle cx="341.75" cy="209.50" r="1.55" fill="none" stroke="#231f20" stroke-width="0.9"/>
<circle cx="352.50" cy="210.00" r="1.55" fill="none" stroke="#231f20" stroke-width="0.9"/>
<circle cx="347.00" cy="217.00" r="1.55" fill="none" stroke="#231f20" stroke-width="0.9"/>
<circle cx="347.00" cy="223.75" r="1.55" fill="none" stroke="#231f20" stroke-width="0.9"/>
<circle cx="347.00" cy="232.00" r="1.55" fill="none" stroke="#231f20" stroke-width="0.9"/>
<path d="M368.80 238.75V199.25H387.70V238.75" fill="#fff" stroke="#0b9a55" stroke-width="1.2"/>
<line x1="378.25" y1="238.75" x2="378.25" y2="241.75" stroke="#231f20" stroke-width="1.05"/>
<line x1="378.25" y1="181.25" x2="378.25" y2="215.75" stroke="#0b9a55" stroke-width="1.05"/>
<line x1="373.25" y1="181.25" x2="383.25" y2="181.25" stroke="#0b9a55" stroke-width="1.05"/>
<line x1="373.25" y1="215.75" x2="383.25" y2="215.75" stroke="#0b9a55" stroke-width="1.05"/>
<circle cx="377.50" cy="173.00" r="1.55" fill="none" stroke="#0b9a55" stroke-width="0.9"/>
<circle cx="377.50" cy="186.25" r="1.55" fill="none" stroke="#0b9a55" stroke-width="0.9"/>
<circle cx="377.50" cy="198.75" r="1.55" fill="none" stroke="#0b9a55" stroke-width="0.9"/>
<circle cx="377.50" cy="203.25" r="1.55" fill="none" stroke="#0b9a55" stroke-width="0.9"/>
<circle cx="377.50" cy="215.00" r="1.55" fill="none" stroke="#0b9a55" stroke-width="0.9"/>
<circle cx="377.50" cy="218.25" r="1.55" fill="none" stroke="#0b9a55" stroke-width="0.9"/>
<line x1="325.60" y1="165.80" x2="325.60" y2="239.35" stroke="#231f20" stroke-width="1.25"/>
<line x1="325.00" y1="238.75" x2="396.25" y2="238.75" stroke="#231f20" stroke-width="1.25"/>
<line x1="322.20" y1="238.75" x2="325.60" y2="238.75" stroke="#231f20" stroke-width="1.05"/>
<text x="321.00" y="241.40" text-anchor="end" font-size="7.65" fill="#231f20" stroke="#231f20" stroke-width="0.17">0</text>
<line x1="322.20" y1="224.15" x2="325.60" y2="224.15" stroke="#231f20" stroke-width="1.05"/>
<text x="321.00" y="226.80" text-anchor="end" font-size="7.65" fill="#231f20" stroke="#231f20" stroke-width="0.17">1</text>
<line x1="322.20" y1="209.55" x2="325.60" y2="209.55" stroke="#231f20" stroke-width="1.05"/>
<text x="321.00" y="212.20" text-anchor="end" font-size="7.65" fill="#231f20" stroke="#231f20" stroke-width="0.17">2</text>
<line x1="322.20" y1="194.95" x2="325.60" y2="194.95" stroke="#231f20" stroke-width="1.05"/>
<text x="321.00" y="197.60" text-anchor="end" font-size="7.65" fill="#231f20" stroke="#231f20" stroke-width="0.17">3</text>
<line x1="322.20" y1="180.35" x2="325.60" y2="180.35" stroke="#231f20" stroke-width="1.05"/>
<text x="321.00" y="183.00" text-anchor="end" font-size="7.65" fill="#231f20" stroke="#231f20" stroke-width="0.17">4</text>
<line x1="322.20" y1="165.75" x2="325.60" y2="165.75" stroke="#231f20" stroke-width="1.05"/>
<text x="321.00" y="168.40" text-anchor="end" font-size="7.65" fill="#231f20" stroke="#231f20" stroke-width="0.17">5</text>
<text x="357.00" y="157.60" text-anchor="middle" font-size="7.65" fill="#231f20" stroke="#231f20" stroke-width="0.17">M1/M2</text>
<text x="311.60" y="199.80" text-anchor="middle" font-size="7.65" fill="#231f20" transform="rotate(-90 311.60 199.80)" stroke="#231f20" stroke-width="0.17">M1/M2</text>
<text x="346.25" y="250.80" text-anchor="middle" font-size="7.65" fill="#231f20" stroke="#231f20" stroke-width="0.17">Vehicle</text>
<text x="382.00" y="250.80" text-anchor="middle" font-size="7.65" fill="#231f20" stroke="#231f20" stroke-width="0.17">MRTX1133</text>
<text x="330.00" y="198.90" text-anchor="start" font-size="7.65" fill="#231f20" stroke="#231f20" stroke-width="0.17"><tspan font-style="italic">P</tspan><tspan dx="1.3">=</tspan><tspan dx="1.3">0.0450</tspan></text>
<rect x="440.00" y="201.90" width="20.00" height="37.35" fill="#0b9a55"/>
<rect x="440.00" y="172.50" width="20.00" height="29.40" fill="#3b55a5"/>
<rect x="470.00" y="191.75" width="19.50" height="47.50" fill="#0b9a55"/>
<rect x="470.00" y="172.50" width="19.50" height="19.25" fill="#3b55a5"/>
<line x1="450.00" y1="168.75" x2="450.00" y2="172.50" stroke="#231f20" stroke-width="0.95"/>
<line x1="445.00" y1="168.75" x2="455.00" y2="168.75" stroke="#231f20" stroke-width="0.95"/>
<line x1="450.00" y1="197.50" x2="450.00" y2="201.90" stroke="#231f20" stroke-width="0.95"/>
<line x1="445.00" y1="197.50" x2="455.00" y2="197.50" stroke="#231f20" stroke-width="0.95"/>
<line x1="450.00" y1="239.25" x2="450.00" y2="241.85" stroke="#231f20" stroke-width="0.9"/>
<line x1="479.75" y1="170.00" x2="479.75" y2="172.50" stroke="#231f20" stroke-width="0.95"/>
<line x1="474.75" y1="170.00" x2="484.75" y2="170.00" stroke="#231f20" stroke-width="0.95"/>
<line x1="479.75" y1="189.50" x2="479.75" y2="191.75" stroke="#231f20" stroke-width="0.95"/>
<line x1="474.75" y1="189.50" x2="484.75" y2="189.50" stroke="#231f20" stroke-width="0.95"/>
<line x1="479.75" y1="239.25" x2="479.75" y2="241.85" stroke="#231f20" stroke-width="0.9"/>
<line x1="435.75" y1="163.50" x2="435.75" y2="239.85" stroke="#231f20" stroke-width="1.25"/>
<line x1="435.15" y1="239.25" x2="493.50" y2="239.25" stroke="#231f20" stroke-width="1.25"/>
<line x1="432.35" y1="239.25" x2="435.75" y2="239.25" stroke="#231f20" stroke-width="0.9"/>
<text x="431.15" y="241.90" text-anchor="end" font-size="7.65" fill="#231f20" stroke="#231f20" stroke-width="0.17">0</text>
<line x1="432.35" y1="225.90" x2="435.75" y2="225.90" stroke="#231f20" stroke-width="0.9"/>
<text x="431.15" y="228.55" text-anchor="end" font-size="7.65" fill="#231f20" stroke="#231f20" stroke-width="0.17">20</text>
<line x1="432.35" y1="212.55" x2="435.75" y2="212.55" stroke="#231f20" stroke-width="0.9"/>
<text x="431.15" y="215.20" text-anchor="end" font-size="7.65" fill="#231f20" stroke="#231f20" stroke-width="0.17">40</text>
<line x1="432.35" y1="199.20" x2="435.75" y2="199.20" stroke="#231f20" stroke-width="0.9"/>
<text x="431.15" y="201.85" text-anchor="end" font-size="7.65" fill="#231f20" stroke="#231f20" stroke-width="0.17">60</text>
<line x1="432.35" y1="185.85" x2="435.75" y2="185.85" stroke="#231f20" stroke-width="0.9"/>
<text x="431.15" y="188.50" text-anchor="end" font-size="7.65" fill="#231f20" stroke="#231f20" stroke-width="0.17">80</text>
<line x1="432.35" y1="172.50" x2="435.75" y2="172.50" stroke="#231f20" stroke-width="0.9"/>
<text x="431.15" y="175.15" text-anchor="end" font-size="7.65" fill="#231f20" stroke="#231f20" stroke-width="0.17">100</text>
<text x="415.40" y="204.75" text-anchor="middle" font-size="7.65" fill="#231f20" transform="rotate(-90 415.40 204.75)" stroke="#231f20" stroke-width="0.17">Freq. of macrophages (%)</text>
<text x="451.75" y="250.80" text-anchor="middle" font-size="7.65" fill="#231f20" stroke="#231f20" stroke-width="0.17">Vehicle</text>
<text x="488.25" y="250.80" text-anchor="middle" font-size="7.65" fill="#231f20" stroke="#231f20" stroke-width="0.17">MRTX1133</text>
<rect x="408.00" y="150.30" width="5.80" height="5.00" fill="#0b9a55"/>
<text x="415.00" y="155.60" text-anchor="start" font-size="7.65" fill="#231f20" stroke="#231f20" stroke-width="0.17">M1 (MHC-II<tspan dy="-2.5" font-size="4.8">+</tspan><tspan dy="2.5" font-size="1">&#8203;</tspan>)</text>
<rect x="463.00" y="150.30" width="5.80" height="5.00" fill="#3b55a5"/>
<text x="472.50" y="155.60" text-anchor="start" font-size="7.65" fill="#231f20" stroke="#231f20" stroke-width="0.17">M2 (CD206<tspan dy="-2.5" font-size="4.8">+</tspan><tspan dy="2.5" font-size="1">&#8203;</tspan>)</text>
<text x="7.00" y="290.00" text-anchor="start" font-size="9.5" fill="#231f20" font-weight="bold" stroke="#231f20" stroke-width="0.35">E</text>
<text x="104.90" y="287.00" text-anchor="middle" font-size="7.65" fill="#231f20" stroke="#231f20" stroke-width="0.17">Vehicle</text>
<text x="259.00" y="287.00" text-anchor="middle" font-size="7.65" fill="#231f20" stroke="#231f20" stroke-width="0.17">MRTX1133</text>
<defs>
<linearGradient id="gv" x1="0" y1="0" x2="1" y2="0.25">
 <stop offset="0" stop-color="#169488"/><stop offset="0.22" stop-color="#189e9a"/><stop offset="0.48" stop-color="#17a3a2"/><stop offset="0.72" stop-color="#12a070"/><stop offset="1" stop-color="#109552"/>
</linearGradient>
<radialGradient id="gvb" cx="0.36" cy="0.5" r="0.42">
 <stop offset="0" stop-color="#1a90d0" stop-opacity="0.7"/><stop offset="0.6" stop-color="#1a90d0" stop-opacity="0.3"/><stop offset="1" stop-color="#1d8ccf" stop-opacity="0"/>
</radialGradient>
<linearGradient id="gm" x1="0" y1="0" x2="1" y2="0.7">
 <stop offset="0" stop-color="#1e8f84"/><stop offset="0.3" stop-color="#1f7f86"/><stop offset="0.62" stop-color="#284c7c"/><stop offset="1" stop-color="#302862"/>
</linearGradient>
<radialGradient id="gmb" cx="0.5" cy="0.35" r="0.38">
 <stop offset="0" stop-color="#22a0a0" stop-opacity="0.6"/><stop offset="1" stop-color="#22a0a0" stop-opacity="0"/>
</radialGradient>
<filter id="fv" x="0" y="0" width="100%" height="100%" color-interpolation-filters="sRGB">
 <feTurbulence type="fractalNoise" baseFrequency="0.17 0.4" numOctaves="3" seed="4" result="n1"/>
 <feTurbulence type="fractalNoise" baseFrequency="0.25 0.52" numOctaves="2" seed="11" result="n2"/>
 <feColorMatrix in="n1" type="matrix" values="0 0 0 0 0.05  0 0 0 0 0.36  0 0 0 0 0.33  3.5 0 0 0 -1.8" result="dk"/>
 <feColorMatrix in="n1" type="matrix" values="0 0 0 0 0.14  0 0 0 0 0.74  0 0 0 0 0.66  0 3.5 0 0 -1.9" result="lt"/>
 <feColorMatrix in="n2" type="matrix" values="0 0 0 0 0.78  0 0 0 0 0.7  0 0 0 0 0.8  0 0 9 0 -5.8" result="pk"/>
 <feMerge><feMergeNode in="dk"/><feMergeNode in="lt"/><feMergeNode in="pk"/></feMerge>
</filter>
<filter id="fvb" x="0" y="0" width="100%" height="100%" color-interpolation-filters="sRGB">
 <feTurbulence type="fractalNoise" baseFrequency="0.15 0.36" numOctaves="3" seed="17" result="n1"/>
 <feColorMatrix in="n1" type="matrix" values="0 0 0 0 0.1  0 0 0 0 0.54  0 0 0 0 0.84  0 0 5 0 -2.3"/>
</filter>
<filter id="fm" x="0" y="0" width="100%" height="100%" color-interpolation-filters="sRGB">
 <feTurbulence type="fractalNoise" baseFrequency="0.3 0.45" numOctaves="3" seed="8" result="n1"/>
 <feTurbulence type="fractalNoise" baseFrequency="0.36 0.55" numOctaves="2" seed="23" result="n2"/>
 <feColorMatrix in="n1" type="matrix" values="0 0 0 0 0.07  0 0 0 0 0.08  0 0 0 0 0.28  4.5 0 0 0 -2.0" result="dk"/>
 <feColorMatrix in="n2" type="matrix" values="0 0 0 0 0.66  0 0 0 0 0.22  0 0 0 0 0.68  0 0 7 0 -3.75" result="pk"/>
 <feColorMatrix in="n2" type="matrix" values="0 0 0 0 0.8  0 0 0 0 0.75  0 0 0 0 0.95  8 0 0 0 -5.7" result="wh"/>
 <feMerge><feMergeNode in="dk"/><feMergeNode in="pk"/><feMergeNode in="wh"/></feMerge>
</filter>
<filter id="fmt" x="0" y="0" width="100%" height="100%" color-interpolation-filters="sRGB">
 <feTurbulence type="fractalNoise" baseFrequency="0.26 0.42" numOctaves="3" seed="31" result="n1"/>
 <feColorMatrix in="n1" type="matrix" values="0 0 0 0 0.12  0 0 0 0 0.76  0 0 0 0 0.64  0 5 0 0 -2.1"/>
</filter>
<linearGradient id="gmk" x1="0" y1="0" x2="1" y2="0.7"><stop offset="0" stop-color="#fff" stop-opacity="0.45"/><stop offset="0.45" stop-color="#fff" stop-opacity="0.75"/><stop offset="1" stop-color="#fff" stop-opacity="1"/></linearGradient>
<linearGradient id="gmk2" x1="0" y1="0.1" x2="1" y2="0.6"><stop offset="0" stop-color="#fff" stop-opacity="1"/><stop offset="0.6" stop-color="#fff" stop-opacity="0.85"/><stop offset="0.85" stop-color="#fff" stop-opacity="0.45"/><stop offset="1" stop-color="#fff" stop-opacity="0.3"/></linearGradient>
<mask id="mm2"><rect x="184.4" y="295" width="149.3" height="113" fill="url(#gmk2)"/></mask>
<mask id="mm"><rect x="184.4" y="295" width="149.3" height="113" fill="url(#gmk)"/></mask>
<radialGradient id="gvm" cx="0.38" cy="0.5" r="0.5"><stop offset="0" stop-color="#fff" stop-opacity="1"/><stop offset="0.55" stop-color="#fff" stop-opacity="0.7"/><stop offset="1" stop-color="#fff" stop-opacity="0"/></radialGradient>
<mask id="mv"><rect x="30.6" y="295" width="149" height="113" fill="url(#gvm)"/></mask>
<clipPath id="cv"><rect x="30.6" y="295" width="149" height="113"/></clipPath>
<clipPath id="cm"><rect x="184.4" y="295" width="149.3" height="113"/></clipPath>
</defs>
<rect x="30.6" y="291.3" width="149" height="3.8" fill="#1a1617"/>
<rect x="184.4" y="291.3" width="149.3" height="3.8" fill="#0e9a4e"/>
<g clip-path="url(#cv)">
<rect x="30.6" y="295" width="149" height="113" fill="url(#gv)"/>
<rect x="30.6" y="295" width="149" height="113" fill="url(#gvb)"/>
<g mask="url(#mv)"><g transform="rotate(-38 105 351)"><rect x="-5" y="241" width="220" height="220" fill="#000" filter="url(#fvb)"/></g></g>
<g transform="rotate(-38 105 351)"><rect x="-5" y="241" width="220" height="220" fill="#000" filter="url(#fv)"/></g>
</g>
<g clip-path="url(#cm)">
<rect x="184.4" y="295" width="149.3" height="113" fill="url(#gm)"/>
<rect x="184.4" y="295" width="149.3" height="113" fill="url(#gmb)"/>
<g mask="url(#mm2)"><g transform="rotate(40 259 351)"><rect x="149" y="241" width="220" height="220" fill="#000" filter="url(#fmt)"/></g></g>
<g mask="url(#mm)"><g transform="rotate(40 259 351)"><rect x="149" y="241" width="220" height="220" fill="#000" filter="url(#fm)"/></g></g>
</g>
<rect x="31.8" y="404.4" width="29" height="2.3" fill="#fff"/>
<rect x="186.6" y="404.4" width="28" height="2.3" fill="#fff"/>

<text x="25.2" y="351.8" text-anchor="middle" font-size="7.65" transform="rotate(-90 25.2 351.8)"><tspan fill="#e5157f">F4/80</tspan><tspan fill="#231f20">/</tspan><tspan fill="#13a04a">GFP</tspan><tspan fill="#231f20">/</tspan><tspan fill="#3f4fa0">DAPI</tspan></text>
<text x="371.50" y="289.80" text-anchor="start" font-size="9.5" fill="#231f20" font-weight="bold" stroke="#231f20" stroke-width="0.35">F</text>
<path d="M400.60 389.40V356.50H423.00V389.40" fill="#fff" stroke="#231f20" stroke-width="1.2"/>
<line x1="411.80" y1="389.40" x2="411.80" y2="392.40" stroke="#231f20" stroke-width="1.05"/>
<line x1="411.80" y1="350.70" x2="411.80" y2="360.70" stroke="#231f20" stroke-width="1.05"/>
<line x1="406.80" y1="350.70" x2="416.80" y2="350.70" stroke="#231f20" stroke-width="1.05"/>
<line x1="406.80" y1="360.70" x2="416.80" y2="360.70" stroke="#231f20" stroke-width="1.05"/>
<circle cx="411.80" cy="351.30" r="1.55" fill="#231f20" stroke="#231f20" stroke-width="0.9"/>
<circle cx="411.80" cy="356.50" r="1.55" fill="#231f20" stroke="#231f20" stroke-width="0.9"/>
<circle cx="411.80" cy="360.70" r="1.55" fill="#231f20" stroke="#231f20" stroke-width="0.9"/>
<path d="M435.90 389.40V328.20H458.70V389.40" fill="#fff" stroke="#0b9a55" stroke-width="1.2"/>
<line x1="447.30" y1="389.40" x2="447.30" y2="392.40" stroke="#231f20" stroke-width="1.05"/>
<line x1="447.30" y1="322.00" x2="447.30" y2="334.00" stroke="#0b9a55" stroke-width="1.05"/>
<line x1="442.30" y1="322.00" x2="452.30" y2="322.00" stroke="#0b9a55" stroke-width="1.05"/>
<line x1="442.30" y1="334.00" x2="452.30" y2="334.00" stroke="#0b9a55" stroke-width="1.05"/>
<circle cx="447.30" cy="322.60" r="1.55" fill="none" stroke="#0b9a55" stroke-width="0.9"/>
<circle cx="447.30" cy="328.20" r="1.55" fill="none" stroke="#0b9a55" stroke-width="0.9"/>
<circle cx="447.30" cy="334.00" r="1.55" fill="none" stroke="#0b9a55" stroke-width="0.9"/>
<line x1="389.50" y1="314.40" x2="389.50" y2="390.00" stroke="#231f20" stroke-width="1.25"/>
<line x1="388.90" y1="389.40" x2="467.00" y2="389.40" stroke="#231f20" stroke-width="1.25"/>
<line x1="386.10" y1="389.40" x2="389.50" y2="389.40" stroke="#231f20" stroke-width="1.05"/>
<text x="384.90" y="392.05" text-anchor="end" font-size="7.65" fill="#231f20" stroke="#231f20" stroke-width="0.17">0</text>
<line x1="386.10" y1="374.52" x2="389.50" y2="374.52" stroke="#231f20" stroke-width="1.05"/>
<text x="384.90" y="377.17" text-anchor="end" font-size="7.65" fill="#231f20" stroke="#231f20" stroke-width="0.17">5</text>
<line x1="386.10" y1="359.64" x2="389.50" y2="359.64" stroke="#231f20" stroke-width="1.05"/>
<text x="384.90" y="362.29" text-anchor="end" font-size="7.65" fill="#231f20" stroke="#231f20" stroke-width="0.17">10</text>
<line x1="386.10" y1="344.76" x2="389.50" y2="344.76" stroke="#231f20" stroke-width="1.05"/>
<text x="384.90" y="347.41" text-anchor="end" font-size="7.65" fill="#231f20" stroke="#231f20" stroke-width="0.17">15</text>
<line x1="386.10" y1="329.88" x2="389.50" y2="329.88" stroke="#231f20" stroke-width="1.05"/>
<text x="384.90" y="332.53" text-anchor="end" font-size="7.65" fill="#231f20" stroke="#231f20" stroke-width="0.17">20</text>
<line x1="386.10" y1="315.00" x2="389.50" y2="315.00" stroke="#231f20" stroke-width="1.05"/>
<text x="384.90" y="317.65" text-anchor="end" font-size="7.65" fill="#231f20" stroke="#231f20" stroke-width="0.17">25</text>
<text x="420.60" y="306.20" text-anchor="middle" font-size="7.65" fill="#231f20" stroke="#231f20" stroke-width="0.17">F4/80</text>
<text x="369.30" y="350.30" text-anchor="middle" font-size="7.65" fill="#231f20" transform="rotate(-90 369.30 350.30)" stroke="#231f20" stroke-width="0.17">% Area/HPF</text>
<text x="411.00" y="401.40" text-anchor="middle" font-size="7.65" fill="#231f20" stroke="#231f20" stroke-width="0.17">Vehicle</text>
<text x="446.60" y="401.40" text-anchor="middle" font-size="7.65" fill="#231f20" stroke="#231f20" stroke-width="0.17">MRTX1133</text>
<text x="393.00" y="342.90" text-anchor="start" font-size="7.65" fill="#231f20" stroke="#231f20" stroke-width="0.17"><tspan font-style="italic">P</tspan><tspan dx="1.3">=</tspan><tspan dx="1.3">0.0025</tspan></text>
<text x="6.20" y="441.90" text-anchor="start" font-size="9.5" fill="#231f20" font-weight="bold" stroke="#231f20" stroke-width="0.35">G</text>
<text x="292.60" y="441.90" text-anchor="start" font-size="9.5" fill="#231f20" font-weight="bold" stroke="#231f20" stroke-width="0.35">H</text>
<path d="M40.00 528.25V508.25H59.50V528.25" fill="#fff" stroke="#231f20" stroke-width="1.2"/>
<line x1="49.75" y1="528.25" x2="49.75" y2="531.25" stroke="#231f20" stroke-width="1.05"/>
<line x1="49.75" y1="500.00" x2="49.75" y2="515.00" stroke="#231f20" stroke-width="1.05"/>
<line x1="44.75" y1="500.00" x2="54.75" y2="500.00" stroke="#231f20" stroke-width="1.05"/>
<line x1="44.75" y1="515.00" x2="54.75" y2="515.00" stroke="#231f20" stroke-width="1.05"/>
<circle cx="50.00" cy="495.00" r="1.55" fill="none" stroke="#231f20" stroke-width="0.9"/>
<circle cx="50.00" cy="507.00" r="1.55" fill="none" stroke="#231f20" stroke-width="0.9"/>
<circle cx="48.25" cy="511.25" r="1.55" fill="none" stroke="#231f20" stroke-width="0.9"/>
<circle cx="51.75" cy="511.25" r="1.55" fill="none" stroke="#231f20" stroke-width="0.9"/>
<circle cx="46.75" cy="513.75" r="1.55" fill="none" stroke="#231f20" stroke-width="0.9"/>
<circle cx="52.50" cy="513.75" r="1.55" fill="none" stroke="#231f20" stroke-width="0.9"/>
<path d="M70.50 528.25V484.25H90.00V528.25" fill="#fff" stroke="#0b9a55" stroke-width="1.2"/>
<line x1="80.25" y1="528.25" x2="80.25" y2="531.25" stroke="#231f20" stroke-width="1.05"/>
<line x1="80.25" y1="477.50" x2="80.25" y2="490.00" stroke="#0b9a55" stroke-width="1.05"/>
<line x1="75.25" y1="477.50" x2="85.25" y2="477.50" stroke="#0b9a55" stroke-width="1.05"/>
<line x1="75.25" y1="490.00" x2="85.25" y2="490.00" stroke="#0b9a55" stroke-width="1.05"/>
<circle cx="80.00" cy="475.00" r="1.55" fill="none" stroke="#0b9a55" stroke-width="0.9"/>
<circle cx="80.00" cy="479.50" r="1.55" fill="none" stroke="#0b9a55" stroke-width="0.9"/>
<circle cx="77.50" cy="483.00" r="1.55" fill="none" stroke="#0b9a55" stroke-width="0.9"/>
<circle cx="82.50" cy="483.75" r="1.55" fill="none" stroke="#0b9a55" stroke-width="0.9"/>
<circle cx="78.25" cy="488.75" r="1.55" fill="none" stroke="#0b9a55" stroke-width="0.9"/>
<circle cx="82.50" cy="488.75" r="1.55" fill="none" stroke="#0b9a55" stroke-width="0.9"/>
<line x1="29.80" y1="453.65" x2="29.80" y2="528.85" stroke="#231f20" stroke-width="1.25"/>
<line x1="29.20" y1="528.25" x2="98.75" y2="528.25" stroke="#231f20" stroke-width="1.25"/>
<line x1="26.40" y1="528.25" x2="29.80" y2="528.25" stroke="#231f20" stroke-width="1.05"/>
<text x="25.20" y="530.90" text-anchor="end" font-size="7.65" fill="#231f20" stroke="#231f20" stroke-width="0.17">0</text>
<line x1="26.40" y1="503.58" x2="29.80" y2="503.58" stroke="#231f20" stroke-width="1.05"/>
<text x="25.20" y="506.23" text-anchor="end" font-size="7.65" fill="#231f20" stroke="#231f20" stroke-width="0.17">5</text>
<line x1="26.40" y1="478.92" x2="29.80" y2="478.92" stroke="#231f20" stroke-width="1.05"/>
<text x="25.20" y="481.57" text-anchor="end" font-size="7.65" fill="#231f20" stroke="#231f20" stroke-width="0.17">10</text>
<line x1="26.40" y1="454.25" x2="29.80" y2="454.25" stroke="#231f20" stroke-width="1.05"/>
<text x="25.20" y="456.90" text-anchor="end" font-size="7.65" fill="#231f20" stroke="#231f20" stroke-width="0.17">15</text>
<text x="69.25" y="448.40" text-anchor="middle" font-size="7.65" fill="#231f20" stroke="#231f20" stroke-width="0.17">CD3<tspan dy="-2.5" font-size="4.8">+</tspan><tspan dy="2.5" font-size="1">&#8203;</tspan> T cells</text>
<text x="11.30" y="488.75" text-anchor="middle" font-size="7.65" fill="#231f20" transform="rotate(-90 11.30 488.75)" stroke="#231f20" stroke-width="0.17">% CD45<tspan dy="-2.7" font-size="6.3">+</tspan><tspan dy="2.7" font-size="1">&#8203;</tspan> cells</text>
<text x="47.50" y="540.90" text-anchor="middle" font-size="7.65" fill="#231f20" stroke="#231f20" stroke-width="0.17">Vehicle</text>
<text x="83.75" y="540.90" text-anchor="middle" font-size="7.65" fill="#231f20" stroke="#231f20" stroke-width="0.17">MRTX1133</text>
<text x="32.00" y="490.10" text-anchor="start" font-size="7.65" fill="#231f20" stroke="#231f20" stroke-width="0.17"><tspan font-style="italic">P</tspan><tspan dx="1.3">=</tspan><tspan dx="1.3">0.0006</tspan></text>
<path d="M133.00 528.25V505.50H152.50V528.25" fill="#fff" stroke="#231f20" stroke-width="1.2"/>
<line x1="142.75" y1="528.25" x2="142.75" y2="531.25" stroke="#231f20" stroke-width="1.05"/>
<line x1="142.75" y1="495.50" x2="142.75" y2="515.00" stroke="#231f20" stroke-width="1.05"/>
<line x1="137.75" y1="495.50" x2="147.75" y2="495.50" stroke="#231f20" stroke-width="1.05"/>
<line x1="137.75" y1="515.00" x2="147.75" y2="515.00" stroke="#231f20" stroke-width="1.05"/>
<circle cx="143.00" cy="490.00" r="1.55" fill="none" stroke="#231f20" stroke-width="0.9"/>
<circle cx="143.00" cy="500.75" r="1.55" fill="none" stroke="#231f20" stroke-width="0.9"/>
<circle cx="143.00" cy="511.25" r="1.55" fill="none" stroke="#231f20" stroke-width="0.9"/>
<circle cx="140.00" cy="511.25" r="1.55" fill="none" stroke="#231f20" stroke-width="0.9"/>
<circle cx="146.25" cy="511.25" r="1.55" fill="none" stroke="#231f20" stroke-width="0.9"/>
<circle cx="137.50" cy="511.25" r="1.55" fill="none" stroke="#231f20" stroke-width="0.9"/>
<path d="M163.25 528.25V484.25H183.25V528.25" fill="#fff" stroke="#0b9a55" stroke-width="1.2"/>
<line x1="173.25" y1="528.25" x2="173.25" y2="531.25" stroke="#231f20" stroke-width="1.05"/>
<line x1="173.25" y1="475.00" x2="173.25" y2="493.25" stroke="#0b9a55" stroke-width="1.05"/>
<line x1="168.25" y1="475.00" x2="178.25" y2="475.00" stroke="#0b9a55" stroke-width="1.05"/>
<line x1="168.25" y1="493.25" x2="178.25" y2="493.25" stroke="#0b9a55" stroke-width="1.05"/>
<circle cx="173.00" cy="468.75" r="1.55" fill="none" stroke="#0b9a55" stroke-width="0.9"/>
<circle cx="173.00" cy="482.50" r="1.55" fill="none" stroke="#0b9a55" stroke-width="0.9"/>
<circle cx="170.00" cy="485.00" r="1.55" fill="none" stroke="#0b9a55" stroke-width="0.9"/>
<circle cx="176.25" cy="485.00" r="1.55" fill="none" stroke="#0b9a55" stroke-width="0.9"/>
<circle cx="170.75" cy="491.25" r="1.55" fill="none" stroke="#0b9a55" stroke-width="0.9"/>
<circle cx="175.75" cy="491.25" r="1.55" fill="none" stroke="#0b9a55" stroke-width="0.9"/>
<line x1="122.20" y1="453.65" x2="122.20" y2="528.85" stroke="#231f20" stroke-width="1.25"/>
<line x1="121.60" y1="528.25" x2="192.50" y2="528.25" stroke="#231f20" stroke-width="1.25"/>
<line x1="118.80" y1="528.25" x2="122.20" y2="528.25" stroke="#231f20" stroke-width="1.05"/>
<text x="117.60" y="530.90" text-anchor="end" font-size="7.65" fill="#231f20" stroke="#231f20" stroke-width="0.17">0</text>
<line x1="118.80" y1="513.45" x2="122.20" y2="513.45" stroke="#231f20" stroke-width="1.05"/>
<text x="117.60" y="516.10" text-anchor="end" font-size="7.65" fill="#231f20" stroke="#231f20" stroke-width="0.17">2</text>
<line x1="118.80" y1="498.65" x2="122.20" y2="498.65" stroke="#231f20" stroke-width="1.05"/>
<text x="117.60" y="501.30" text-anchor="end" font-size="7.65" fill="#231f20" stroke="#231f20" stroke-width="0.17">4</text>
<line x1="118.80" y1="483.85" x2="122.20" y2="483.85" stroke="#231f20" stroke-width="1.05"/>
<text x="117.60" y="486.50" text-anchor="end" font-size="7.65" fill="#231f20" stroke="#231f20" stroke-width="0.17">6</text>
<line x1="118.80" y1="469.05" x2="122.20" y2="469.05" stroke="#231f20" stroke-width="1.05"/>
<text x="117.60" y="471.70" text-anchor="end" font-size="7.65" fill="#231f20" stroke="#231f20" stroke-width="0.17">8</text>
<line x1="118.80" y1="454.25" x2="122.20" y2="454.25" stroke="#231f20" stroke-width="1.05"/>
<text x="117.60" y="456.90" text-anchor="end" font-size="7.65" fill="#231f20" stroke="#231f20" stroke-width="0.17">10</text>
<text x="157.50" y="448.40" text-anchor="middle" font-size="7.65" fill="#231f20" stroke="#231f20" stroke-width="0.17">CD4<tspan dy="-2.5" font-size="4.8">+</tspan><tspan dy="2.5" font-size="1">&#8203;</tspan> T cells</text>
<text x="107.00" y="488.75" text-anchor="middle" font-size="7.65" fill="#231f20" transform="rotate(-90 107.00 488.75)" stroke="#231f20" stroke-width="0.17">% CD45<tspan dy="-2.7" font-size="6.3">+</tspan><tspan dy="2.7" font-size="1">&#8203;</tspan> cells</text>
<text x="140.00" y="540.90" text-anchor="middle" font-size="7.65" fill="#231f20" stroke="#231f20" stroke-width="0.17">Vehicle</text>
<text x="176.25" y="540.90" text-anchor="middle" font-size="7.65" fill="#231f20" stroke="#231f20" stroke-width="0.17">MRTX1133</text>
<text x="125.00" y="486.40" text-anchor="start" font-size="7.65" fill="#231f20" stroke="#231f20" stroke-width="0.17"><tspan font-style="italic">P</tspan><tspan dx="1.3">=</tspan><tspan dx="1.3">0.0068</tspan></text>
<path d="M230.00 528.25V513.75H249.50V528.25" fill="#fff" stroke="#231f20" stroke-width="1.2"/>
<line x1="239.75" y1="528.25" x2="239.75" y2="531.25" stroke="#231f20" stroke-width="1.05"/>
<line x1="239.75" y1="503.00" x2="239.75" y2="524.25" stroke="#231f20" stroke-width="1.05"/>
<line x1="234.75" y1="503.00" x2="244.75" y2="503.00" stroke="#231f20" stroke-width="1.05"/>
<line x1="234.75" y1="524.25" x2="244.75" y2="524.25" stroke="#231f20" stroke-width="1.05"/>
<circle cx="240.00" cy="496.25" r="1.55" fill="none" stroke="#231f20" stroke-width="0.9"/>
<circle cx="240.00" cy="513.75" r="1.55" fill="none" stroke="#231f20" stroke-width="0.9"/>
<circle cx="243.25" cy="515.00" r="1.55" fill="none" stroke="#231f20" stroke-width="0.9"/>
<circle cx="236.75" cy="523.00" r="1.55" fill="none" stroke="#231f20" stroke-width="0.9"/>
<circle cx="242.50" cy="523.00" r="1.55" fill="none" stroke="#231f20" stroke-width="0.9"/>
<path d="M260.50 528.25V478.75H280.00V528.25" fill="#fff" stroke="#0b9a55" stroke-width="1.2"/>
<line x1="270.25" y1="528.25" x2="270.25" y2="531.25" stroke="#231f20" stroke-width="1.05"/>
<line x1="270.25" y1="465.00" x2="270.25" y2="492.00" stroke="#0b9a55" stroke-width="1.05"/>
<line x1="265.25" y1="465.00" x2="275.25" y2="465.00" stroke="#0b9a55" stroke-width="1.05"/>
<line x1="265.25" y1="492.00" x2="275.25" y2="492.00" stroke="#0b9a55" stroke-width="1.05"/>
<circle cx="270.00" cy="460.50" r="1.55" fill="none" stroke="#0b9a55" stroke-width="0.9"/>
<circle cx="270.00" cy="473.75" r="1.55" fill="none" stroke="#0b9a55" stroke-width="0.9"/>
<circle cx="270.00" cy="476.25" r="1.55" fill="none" stroke="#0b9a55" stroke-width="0.9"/>
<circle cx="270.00" cy="482.50" r="1.55" fill="none" stroke="#0b9a55" stroke-width="0.9"/>
<circle cx="270.00" cy="488.00" r="1.55" fill="none" stroke="#0b9a55" stroke-width="0.9"/>
<circle cx="270.00" cy="495.00" r="1.55" fill="none" stroke="#0b9a55" stroke-width="0.9"/>
<line x1="219.70" y1="453.65" x2="219.70" y2="528.85" stroke="#231f20" stroke-width="1.25"/>
<line x1="219.10" y1="528.25" x2="288.75" y2="528.25" stroke="#231f20" stroke-width="1.25"/>
<line x1="216.30" y1="528.25" x2="219.70" y2="528.25" stroke="#231f20" stroke-width="1.05"/>
<text x="215.10" y="530.90" text-anchor="end" font-size="7.65" fill="#231f20" stroke="#231f20" stroke-width="0.17">0.0</text>
<line x1="216.30" y1="513.45" x2="219.70" y2="513.45" stroke="#231f20" stroke-width="1.05"/>
<text x="215.10" y="516.10" text-anchor="end" font-size="7.65" fill="#231f20" stroke="#231f20" stroke-width="0.17">0.2</text>
<line x1="216.30" y1="498.65" x2="219.70" y2="498.65" stroke="#231f20" stroke-width="1.05"/>
<text x="215.10" y="501.30" text-anchor="end" font-size="7.65" fill="#231f20" stroke="#231f20" stroke-width="0.17">0.4</text>
<line x1="216.30" y1="483.85" x2="219.70" y2="483.85" stroke="#231f20" stroke-width="1.05"/>
<text x="215.10" y="486.50" text-anchor="end" font-size="7.65" fill="#231f20" stroke="#231f20" stroke-width="0.17">0.6</text>
<line x1="216.30" y1="469.05" x2="219.70" y2="469.05" stroke="#231f20" stroke-width="1.05"/>
<text x="215.10" y="471.70" text-anchor="end" font-size="7.65" fill="#231f20" stroke="#231f20" stroke-width="0.17">0.8</text>
<line x1="216.30" y1="454.25" x2="219.70" y2="454.25" stroke="#231f20" stroke-width="1.05"/>
<text x="215.10" y="456.90" text-anchor="end" font-size="7.65" fill="#231f20" stroke="#231f20" stroke-width="0.17">1.0</text>
<text x="248.75" y="448.40" text-anchor="middle" font-size="7.65" fill="#231f20" stroke="#231f20" stroke-width="0.17">CD8<tspan dy="-2.5" font-size="4.8">+</tspan><tspan dy="2.5" font-size="1">&#8203;</tspan> T cells</text>
<text x="198.70" y="488.75" text-anchor="middle" font-size="7.65" fill="#231f20" transform="rotate(-90 198.70 488.75)" stroke="#231f20" stroke-width="0.17">% CD45<tspan dy="-2.7" font-size="6.3">+</tspan><tspan dy="2.7" font-size="1">&#8203;</tspan> cells</text>
<text x="237.50" y="540.90" text-anchor="middle" font-size="7.65" fill="#231f20" stroke="#231f20" stroke-width="0.17">Vehicle</text>
<text x="273.75" y="540.90" text-anchor="middle" font-size="7.65" fill="#231f20" stroke="#231f20" stroke-width="0.17">MRTX1133</text>
<text x="223.25" y="490.10" text-anchor="start" font-size="7.65" fill="#231f20" stroke="#231f20" stroke-width="0.17"><tspan font-style="italic">P</tspan><tspan dx="1.3">=</tspan><tspan dx="1.3">0.0017</tspan></text>
<line x1="346.25" y1="484.50" x2="346.25" y2="494.75" stroke="#231f20" stroke-width="0.95"/>
<line x1="339.75" y1="484.50" x2="352.75" y2="484.50" stroke="#231f20" stroke-width="0.95"/>
<line x1="381.50" y1="467.50" x2="381.50" y2="481.50" stroke="#0b9a55" stroke-width="0.95"/>
<line x1="375.00" y1="467.50" x2="388.00" y2="467.50" stroke="#0b9a55" stroke-width="0.95"/>
<rect x="335.00" y="493.75" width="22.50" height="34.50" fill="#231f20"/>
<line x1="346.25" y1="528.25" x2="346.25" y2="531.25" stroke="#231f20" stroke-width="1.05"/>
<rect x="370.00" y="480.50" width="23.00" height="47.75" fill="#0b9a55"/>
<line x1="381.50" y1="528.25" x2="381.50" y2="531.25" stroke="#231f20" stroke-width="1.05"/>
<line x1="322.50" y1="453.15" x2="322.50" y2="528.85" stroke="#231f20" stroke-width="1.25"/>
<line x1="321.90" y1="528.25" x2="404.25" y2="528.25" stroke="#231f20" stroke-width="1.25"/>
<line x1="319.10" y1="528.25" x2="322.50" y2="528.25" stroke="#231f20" stroke-width="1.05"/>
<text x="317.90" y="530.90" text-anchor="end" font-size="7.65" fill="#231f20" stroke="#231f20" stroke-width="0.17">0</text>
<line x1="319.10" y1="503.42" x2="322.50" y2="503.42" stroke="#231f20" stroke-width="1.05"/>
<text x="317.90" y="506.07" text-anchor="end" font-size="7.65" fill="#231f20" stroke="#231f20" stroke-width="0.17">500</text>
<line x1="319.10" y1="478.58" x2="322.50" y2="478.58" stroke="#231f20" stroke-width="1.05"/>
<text x="317.90" y="481.23" text-anchor="end" font-size="7.65" fill="#231f20" stroke="#231f20" stroke-width="0.17">1,000</text>
<line x1="319.10" y1="453.75" x2="322.50" y2="453.75" stroke="#231f20" stroke-width="1.05"/>
<text x="317.90" y="456.40" text-anchor="end" font-size="7.65" fill="#231f20" stroke="#231f20" stroke-width="0.17">1,500</text>
<text x="360.00" y="448.40" text-anchor="middle" font-size="7.65" fill="#231f20" stroke="#231f20" stroke-width="0.17">Ki-67 on CD8<tspan dy="-2.5" font-size="4.8">+</tspan><tspan dy="2.5" font-size="1">&#8203;</tspan> T cells</text>
<text x="296.20" y="489.25" text-anchor="middle" font-size="7.65" fill="#231f20" transform="rotate(-90 296.20 489.25)" stroke="#231f20" stroke-width="0.17">Ki-67 MFI</text>
<text x="344.25" y="540.90" text-anchor="middle" font-size="7.65" fill="#231f20" stroke="#231f20" stroke-width="0.17">Vehicle</text>
<text x="380.50" y="540.90" text-anchor="middle" font-size="7.65" fill="#231f20" stroke="#231f20" stroke-width="0.17">MRTX1133</text>
<text x="327.50" y="476.40" text-anchor="start" font-size="7.65" fill="#231f20" stroke="#231f20" stroke-width="0.17"><tspan font-style="italic">P</tspan><tspan dx="1.3">=</tspan><tspan dx="1.3">0.0018</tspan></text>
<line x1="459.25" y1="488.75" x2="459.25" y2="499.75" stroke="#231f20" stroke-width="0.95"/>
<line x1="452.75" y1="488.75" x2="465.75" y2="488.75" stroke="#231f20" stroke-width="0.95"/>
<line x1="494.62" y1="465.00" x2="494.62" y2="481.50" stroke="#0b9a55" stroke-width="0.95"/>
<line x1="488.12" y1="465.00" x2="501.12" y2="465.00" stroke="#0b9a55" stroke-width="0.95"/>
<rect x="448.00" y="498.75" width="22.50" height="29.25" fill="#231f20"/>
<line x1="459.25" y1="528.00" x2="459.25" y2="531.00" stroke="#231f20" stroke-width="1.05"/>
<rect x="483.00" y="480.50" width="23.25" height="47.50" fill="#0b9a55"/>
<line x1="494.62" y1="528.00" x2="494.62" y2="531.00" stroke="#231f20" stroke-width="1.05"/>
<line x1="435.75" y1="452.65" x2="435.75" y2="528.60" stroke="#231f20" stroke-width="1.25"/>
<line x1="435.15" y1="528.00" x2="517.50" y2="528.00" stroke="#231f20" stroke-width="1.25"/>
<line x1="432.35" y1="528.00" x2="435.75" y2="528.00" stroke="#231f20" stroke-width="1.05"/>
<text x="431.15" y="530.65" text-anchor="end" font-size="7.65" fill="#231f20" stroke="#231f20" stroke-width="0.17">0</text>
<line x1="432.35" y1="503.08" x2="435.75" y2="503.08" stroke="#231f20" stroke-width="1.05"/>
<text x="431.15" y="505.73" text-anchor="end" font-size="7.65" fill="#231f20" stroke="#231f20" stroke-width="0.17">2,000</text>
<line x1="432.35" y1="478.17" x2="435.75" y2="478.17" stroke="#231f20" stroke-width="1.05"/>
<text x="431.15" y="480.82" text-anchor="end" font-size="7.65" fill="#231f20" stroke="#231f20" stroke-width="0.17">4,000</text>
<line x1="432.35" y1="453.25" x2="435.75" y2="453.25" stroke="#231f20" stroke-width="1.05"/>
<text x="431.15" y="455.90" text-anchor="end" font-size="7.65" fill="#231f20" stroke="#231f20" stroke-width="0.17">6,000</text>
<text x="473.00" y="448.40" text-anchor="middle" font-size="7.65" fill="#231f20" stroke="#231f20" stroke-width="0.17">GZMB on CD8<tspan dy="-2.5" font-size="4.8">+</tspan><tspan dy="2.5" font-size="1">&#8203;</tspan> T cells</text>
<text x="407.50" y="488.75" text-anchor="middle" font-size="7.65" fill="#231f20" transform="rotate(-90 407.50 488.75)" stroke="#231f20" stroke-width="0.17">GZMB MFI</text>
<text x="457.50" y="540.90" text-anchor="middle" font-size="7.65" fill="#231f20" stroke="#231f20" stroke-width="0.17">Vehicle</text>
<text x="494.25" y="540.90" text-anchor="middle" font-size="7.65" fill="#231f20" stroke="#231f20" stroke-width="0.17">MRTX1133</text>
<text x="440.00" y="481.90" text-anchor="start" font-size="7.65" fill="#231f20" stroke="#231f20" stroke-width="0.17"><tspan font-style="italic">P</tspan><tspan dx="1.3">=</tspan><tspan dx="1.3">0.0007</tspan></text>
<text x="33.75" y="578.10" text-anchor="start" font-size="7.65" fill="#231f20" stroke="#231f20" stroke-width="0.17">6419c5, TDLN, 60 h</text>
<line x1="20.00" y1="582.50" x2="505.00" y2="582.50" stroke="#231f20" stroke-width="0.9"/>
<text x="8.60" y="592.80" text-anchor="start" font-size="9.5" fill="#231f20" font-weight="bold" stroke="#231f20" stroke-width="0.35">I</text>
<path d="M39.60 677.50V632.60H62.00V677.50" fill="#fff" stroke="#231f20" stroke-width="1.2"/>
<line x1="50.80" y1="677.50" x2="50.80" y2="680.50" stroke="#231f20" stroke-width="1.05"/>
<line x1="50.80" y1="621.80" x2="50.80" y2="641.70" stroke="#231f20" stroke-width="1.05"/>
<line x1="45.10" y1="621.80" x2="56.50" y2="621.80" stroke="#231f20" stroke-width="1.05"/>
<line x1="45.10" y1="641.70" x2="56.50" y2="641.70" stroke="#231f20" stroke-width="1.05"/>
<circle cx="50.80" cy="609.10" r="1.55" fill="none" stroke="#231f20" stroke-width="0.9"/>
<circle cx="50.80" cy="614.80" r="1.55" fill="none" stroke="#231f20" stroke-width="0.9"/>
<circle cx="50.80" cy="620.90" r="1.55" fill="none" stroke="#231f20" stroke-width="0.9"/>
<circle cx="48.10" cy="626.30" r="1.55" fill="none" stroke="#231f20" stroke-width="0.9"/>
<circle cx="53.50" cy="625.90" r="1.55" fill="none" stroke="#231f20" stroke-width="0.9"/>
<circle cx="50.80" cy="630.00" r="1.55" fill="none" stroke="#231f20" stroke-width="0.9"/>
<circle cx="40.10" cy="635.00" r="1.55" fill="none" stroke="#231f20" stroke-width="0.9"/>
<circle cx="45.40" cy="635.00" r="1.55" fill="none" stroke="#231f20" stroke-width="0.9"/>
<circle cx="50.80" cy="635.00" r="1.55" fill="none" stroke="#231f20" stroke-width="0.9"/>
<circle cx="56.20" cy="635.00" r="1.55" fill="none" stroke="#231f20" stroke-width="0.9"/>
<circle cx="61.60" cy="635.00" r="1.55" fill="none" stroke="#231f20" stroke-width="0.9"/>
<circle cx="40.10" cy="638.80" r="1.55" fill="none" stroke="#231f20" stroke-width="0.9"/>
<circle cx="45.40" cy="638.80" r="1.55" fill="none" stroke="#231f20" stroke-width="0.9"/>
<circle cx="50.80" cy="638.80" r="1.55" fill="none" stroke="#231f20" stroke-width="0.9"/>
<circle cx="56.20" cy="638.80" r="1.55" fill="none" stroke="#231f20" stroke-width="0.9"/>
<circle cx="61.60" cy="638.80" r="1.55" fill="none" stroke="#231f20" stroke-width="0.9"/>
<circle cx="50.80" cy="643.10" r="1.55" fill="none" stroke="#231f20" stroke-width="0.9"/>
<path d="M75.30 677.50V633.20H97.60V677.50" fill="#fff" stroke="#0b9a55" stroke-width="1.2"/>
<line x1="86.45" y1="677.50" x2="86.45" y2="680.50" stroke="#231f20" stroke-width="1.05"/>
<line x1="86.45" y1="622.60" x2="86.45" y2="642.80" stroke="#0b9a55" stroke-width="1.05"/>
<line x1="80.75" y1="622.60" x2="92.15" y2="622.60" stroke="#0b9a55" stroke-width="1.05"/>
<line x1="80.75" y1="642.80" x2="92.15" y2="642.80" stroke="#0b9a55" stroke-width="1.05"/>
<circle cx="86.50" cy="615.20" r="1.55" fill="none" stroke="#0b9a55" stroke-width="0.9"/>
<circle cx="83.10" cy="620.00" r="1.55" fill="none" stroke="#0b9a55" stroke-width="0.9"/>
<circle cx="89.90" cy="619.10" r="1.55" fill="none" stroke="#0b9a55" stroke-width="0.9"/>
<circle cx="76.10" cy="627.90" r="1.55" fill="none" stroke="#0b9a55" stroke-width="0.9"/>
<circle cx="83.10" cy="626.30" r="1.55" fill="none" stroke="#0b9a55" stroke-width="0.9"/>
<circle cx="89.90" cy="627.20" r="1.55" fill="none" stroke="#0b9a55" stroke-width="0.9"/>
<circle cx="96.90" cy="628.70" r="1.55" fill="none" stroke="#0b9a55" stroke-width="0.9"/>
<circle cx="83.10" cy="632.10" r="1.55" fill="none" stroke="#0b9a55" stroke-width="0.9"/>
<circle cx="89.90" cy="632.10" r="1.55" fill="none" stroke="#0b9a55" stroke-width="0.9"/>
<circle cx="76.10" cy="637.70" r="1.55" fill="none" stroke="#0b9a55" stroke-width="0.9"/>
<circle cx="83.10" cy="638.80" r="1.55" fill="none" stroke="#0b9a55" stroke-width="0.9"/>
<circle cx="89.90" cy="639.70" r="1.55" fill="none" stroke="#0b9a55" stroke-width="0.9"/>
<circle cx="96.90" cy="642.20" r="1.55" fill="none" stroke="#0b9a55" stroke-width="0.9"/>
<circle cx="83.10" cy="642.80" r="1.55" fill="none" stroke="#0b9a55" stroke-width="0.9"/>
<circle cx="89.90" cy="643.40" r="1.55" fill="none" stroke="#0b9a55" stroke-width="0.9"/>
<circle cx="86.50" cy="648.80" r="1.55" fill="none" stroke="#0b9a55" stroke-width="0.9"/>
<line x1="28.25" y1="601.40" x2="28.25" y2="678.10" stroke="#231f20" stroke-width="1.25"/>
<line x1="27.65" y1="677.50" x2="105.00" y2="677.50" stroke="#231f20" stroke-width="1.25"/>
<line x1="24.85" y1="677.50" x2="28.25" y2="677.50" stroke="#231f20" stroke-width="1.05"/>
<text x="23.65" y="680.15" text-anchor="end" font-size="7.65" fill="#231f20" stroke="#231f20" stroke-width="0.17">0</text>
<line x1="24.85" y1="652.33" x2="28.25" y2="652.33" stroke="#231f20" stroke-width="1.05"/>
<text x="23.65" y="654.98" text-anchor="end" font-size="7.65" fill="#231f20" stroke="#231f20" stroke-width="0.17">20</text>
<line x1="24.85" y1="627.17" x2="28.25" y2="627.17" stroke="#231f20" stroke-width="1.05"/>
<text x="23.65" y="629.82" text-anchor="end" font-size="7.65" fill="#231f20" stroke="#231f20" stroke-width="0.17">40</text>
<line x1="24.85" y1="602.00" x2="28.25" y2="602.00" stroke="#231f20" stroke-width="1.05"/>
<text x="23.65" y="604.65" text-anchor="end" font-size="7.65" fill="#231f20" stroke="#231f20" stroke-width="0.17">60</text>
<text x="65.50" y="598.90" text-anchor="middle" font-size="7.65" fill="#231f20" stroke="#231f20" stroke-width="0.17">CD3<tspan dy="-2.5" font-size="4.8">+</tspan><tspan dy="2.5" font-size="1">&#8203;</tspan> T cells</text>
<text x="10.00" y="637.50" text-anchor="middle" font-size="7.65" fill="#231f20" transform="rotate(-90 10.00 637.50)" stroke="#231f20" stroke-width="0.17">% CD45<tspan dy="-2.7" font-size="6.3">+</tspan><tspan dy="2.7" font-size="1">&#8203;</tspan> cells</text>
<text x="47.50" y="690.60" text-anchor="middle" font-size="7.65" fill="#231f20" stroke="#231f20" stroke-width="0.17">Vehicle</text>
<text x="84.50" y="690.60" text-anchor="middle" font-size="7.65" fill="#231f20" stroke="#231f20" stroke-width="0.17">MRTX1133</text>
<path d="M142.20 678.00V634.20H164.60V678.00" fill="#fff" stroke="#231f20" stroke-width="1.2"/>
<line x1="153.40" y1="678.00" x2="153.40" y2="681.00" stroke="#231f20" stroke-width="1.05"/>
<line x1="153.40" y1="624.60" x2="153.40" y2="643.10" stroke="#231f20" stroke-width="1.05"/>
<line x1="147.70" y1="624.60" x2="159.10" y2="624.60" stroke="#231f20" stroke-width="1.05"/>
<line x1="147.70" y1="643.10" x2="159.10" y2="643.10" stroke="#231f20" stroke-width="1.05"/>
<circle cx="153.50" cy="611.20" r="1.55" fill="none" stroke="#231f20" stroke-width="0.9"/>
<circle cx="153.50" cy="617.80" r="1.55" fill="none" stroke="#231f20" stroke-width="0.9"/>
<circle cx="148.40" cy="624.90" r="1.55" fill="none" stroke="#231f20" stroke-width="0.9"/>
<circle cx="158.60" cy="628.00" r="1.55" fill="none" stroke="#231f20" stroke-width="0.9"/>
<circle cx="153.50" cy="629.60" r="1.55" fill="none" stroke="#231f20" stroke-width="0.9"/>
<circle cx="153.50" cy="635.30" r="1.55" fill="none" stroke="#231f20" stroke-width="0.9"/>
<circle cx="143.00" cy="636.10" r="1.55" fill="none" stroke="#231f20" stroke-width="0.9"/>
<circle cx="164.00" cy="635.30" r="1.55" fill="none" stroke="#231f20" stroke-width="0.9"/>
<circle cx="148.40" cy="637.00" r="1.55" fill="none" stroke="#231f20" stroke-width="0.9"/>
<circle cx="158.60" cy="637.40" r="1.55" fill="none" stroke="#231f20" stroke-width="0.9"/>
<circle cx="143.00" cy="640.10" r="1.55" fill="none" stroke="#231f20" stroke-width="0.9"/>
<circle cx="153.50" cy="639.70" r="1.55" fill="none" stroke="#231f20" stroke-width="0.9"/>
<circle cx="158.60" cy="640.10" r="1.55" fill="none" stroke="#231f20" stroke-width="0.9"/>
<circle cx="164.00" cy="640.10" r="1.55" fill="none" stroke="#231f20" stroke-width="0.9"/>
<circle cx="153.50" cy="646.70" r="1.55" fill="none" stroke="#231f20" stroke-width="0.9"/>
<path d="M177.50 678.00V638.40H199.90V678.00" fill="#fff" stroke="#0b9a55" stroke-width="1.2"/>
<line x1="188.70" y1="678.00" x2="188.70" y2="681.00" stroke="#231f20" stroke-width="1.05"/>
<line x1="188.70" y1="628.10" x2="188.70" y2="647.20" stroke="#0b9a55" stroke-width="1.05"/>
<line x1="183.00" y1="628.10" x2="194.40" y2="628.10" stroke="#0b9a55" stroke-width="1.05"/>
<line x1="183.00" y1="647.20" x2="194.40" y2="647.20" stroke="#0b9a55" stroke-width="1.05"/>
<circle cx="185.50" cy="621.30" r="1.55" fill="none" stroke="#0b9a55" stroke-width="0.9"/>
<circle cx="185.50" cy="624.20" r="1.55" fill="none" stroke="#0b9a55" stroke-width="0.9"/>
<circle cx="192.50" cy="624.00" r="1.55" fill="none" stroke="#0b9a55" stroke-width="0.9"/>
<circle cx="178.80" cy="632.70" r="1.55" fill="none" stroke="#0b9a55" stroke-width="0.9"/>
<circle cx="185.50" cy="632.00" r="1.55" fill="none" stroke="#0b9a55" stroke-width="0.9"/>
<circle cx="199.00" cy="632.70" r="1.55" fill="none" stroke="#0b9a55" stroke-width="0.9"/>
<circle cx="178.80" cy="636.10" r="1.55" fill="none" stroke="#0b9a55" stroke-width="0.9"/>
<circle cx="185.50" cy="635.30" r="1.55" fill="none" stroke="#0b9a55" stroke-width="0.9"/>
<circle cx="192.50" cy="635.30" r="1.55" fill="none" stroke="#0b9a55" stroke-width="0.9"/>
<circle cx="192.50" cy="640.10" r="1.55" fill="none" stroke="#0b9a55" stroke-width="0.9"/>
<circle cx="185.50" cy="643.10" r="1.55" fill="none" stroke="#0b9a55" stroke-width="0.9"/>
<circle cx="178.80" cy="645.50" r="1.55" fill="none" stroke="#0b9a55" stroke-width="0.9"/>
<circle cx="185.50" cy="647.80" r="1.55" fill="none" stroke="#0b9a55" stroke-width="0.9"/>
<circle cx="192.50" cy="647.40" r="1.55" fill="none" stroke="#0b9a55" stroke-width="0.9"/>
<circle cx="199.00" cy="647.80" r="1.55" fill="none" stroke="#0b9a55" stroke-width="0.9"/>
<circle cx="188.90" cy="651.80" r="1.55" fill="none" stroke="#0b9a55" stroke-width="0.9"/>
<line x1="130.00" y1="602.65" x2="130.00" y2="678.60" stroke="#231f20" stroke-width="1.25"/>
<line x1="129.40" y1="678.00" x2="207.30" y2="678.00" stroke="#231f20" stroke-width="1.25"/>
<line x1="126.60" y1="678.00" x2="130.00" y2="678.00" stroke="#231f20" stroke-width="1.05"/>
<text x="125.40" y="680.65" text-anchor="end" font-size="7.65" fill="#231f20" stroke="#231f20" stroke-width="0.17">0</text>
<line x1="126.60" y1="653.08" x2="130.00" y2="653.08" stroke="#231f20" stroke-width="1.05"/>
<text x="125.40" y="655.73" text-anchor="end" font-size="7.65" fill="#231f20" stroke="#231f20" stroke-width="0.17">10</text>
<line x1="126.60" y1="628.17" x2="130.00" y2="628.17" stroke="#231f20" stroke-width="1.05"/>
<text x="125.40" y="630.82" text-anchor="end" font-size="7.65" fill="#231f20" stroke="#231f20" stroke-width="0.17">20</text>
<line x1="126.60" y1="603.25" x2="130.00" y2="603.25" stroke="#231f20" stroke-width="1.05"/>
<text x="125.40" y="605.90" text-anchor="end" font-size="7.65" fill="#231f20" stroke="#231f20" stroke-width="0.17">30</text>
<text x="165.50" y="598.90" text-anchor="middle" font-size="7.65" fill="#231f20" stroke="#231f20" stroke-width="0.17">CD4<tspan dy="-2.5" font-size="4.8">+</tspan><tspan dy="2.5" font-size="1">&#8203;</tspan> T cells</text>
<text x="113.30" y="637.50" text-anchor="middle" font-size="7.65" fill="#231f20" transform="rotate(-90 113.30 637.50)" stroke="#231f20" stroke-width="0.17">% CD45<tspan dy="-2.7" font-size="6.3">+</tspan><tspan dy="2.7" font-size="1">&#8203;</tspan> cells</text>
<text x="150.75" y="690.60" text-anchor="middle" font-size="7.65" fill="#231f20" stroke="#231f20" stroke-width="0.17">Vehicle</text>
<text x="188.75" y="690.60" text-anchor="middle" font-size="7.65" fill="#231f20" stroke="#231f20" stroke-width="0.17">MRTX1133</text>
<path d="M243.50 678.20V636.30H265.60V678.20" fill="#fff" stroke="#231f20" stroke-width="1.2"/>
<line x1="254.55" y1="678.20" x2="254.55" y2="681.20" stroke="#231f20" stroke-width="1.05"/>
<line x1="254.55" y1="626.40" x2="254.55" y2="645.00" stroke="#231f20" stroke-width="1.05"/>
<line x1="248.85" y1="626.40" x2="260.25" y2="626.40" stroke="#231f20" stroke-width="1.05"/>
<line x1="248.85" y1="645.00" x2="260.25" y2="645.00" stroke="#231f20" stroke-width="1.05"/>
<circle cx="254.50" cy="614.50" r="1.55" fill="none" stroke="#231f20" stroke-width="0.9"/>
<circle cx="254.50" cy="620.60" r="1.55" fill="none" stroke="#231f20" stroke-width="0.9"/>
<circle cx="254.50" cy="624.90" r="1.55" fill="none" stroke="#231f20" stroke-width="0.9"/>
<circle cx="251.80" cy="630.30" r="1.55" fill="none" stroke="#231f20" stroke-width="0.9"/>
<circle cx="256.90" cy="630.30" r="1.55" fill="none" stroke="#231f20" stroke-width="0.9"/>
<circle cx="244.40" cy="639.70" r="1.55" fill="none" stroke="#231f20" stroke-width="0.9"/>
<circle cx="249.40" cy="639.70" r="1.55" fill="none" stroke="#231f20" stroke-width="0.9"/>
<circle cx="254.50" cy="639.30" r="1.55" fill="none" stroke="#231f20" stroke-width="0.9"/>
<circle cx="259.90" cy="639.30" r="1.55" fill="none" stroke="#231f20" stroke-width="0.9"/>
<circle cx="265.00" cy="638.40" r="1.55" fill="none" stroke="#231f20" stroke-width="0.9"/>
<circle cx="244.40" cy="645.80" r="1.55" fill="none" stroke="#231f20" stroke-width="0.9"/>
<circle cx="249.40" cy="643.70" r="1.55" fill="none" stroke="#231f20" stroke-width="0.9"/>
<circle cx="254.50" cy="643.10" r="1.55" fill="none" stroke="#231f20" stroke-width="0.9"/>
<circle cx="259.90" cy="643.70" r="1.55" fill="none" stroke="#231f20" stroke-width="0.9"/>
<circle cx="265.00" cy="646.20" r="1.55" fill="none" stroke="#231f20" stroke-width="0.9"/>
<circle cx="254.50" cy="634.60" r="1.55" fill="none" stroke="#231f20" stroke-width="0.9"/>
<path d="M278.90 678.20V636.00H301.20V678.20" fill="#fff" stroke="#0b9a55" stroke-width="1.2"/>
<line x1="290.05" y1="678.20" x2="290.05" y2="681.20" stroke="#231f20" stroke-width="1.05"/>
<line x1="290.05" y1="626.40" x2="290.05" y2="644.60" stroke="#0b9a55" stroke-width="1.05"/>
<line x1="284.35" y1="626.40" x2="295.75" y2="626.40" stroke="#0b9a55" stroke-width="1.05"/>
<line x1="284.35" y1="644.60" x2="295.75" y2="644.60" stroke="#0b9a55" stroke-width="1.05"/>
<circle cx="289.90" cy="619.90" r="1.55" fill="none" stroke="#0b9a55" stroke-width="0.9"/>
<circle cx="286.50" cy="623.60" r="1.55" fill="none" stroke="#0b9a55" stroke-width="0.9"/>
<circle cx="293.50" cy="626.20" r="1.55" fill="none" stroke="#0b9a55" stroke-width="0.9"/>
<circle cx="286.50" cy="627.60" r="1.55" fill="none" stroke="#0b9a55" stroke-width="0.9"/>
<circle cx="279.80" cy="629.90" r="1.55" fill="none" stroke="#0b9a55" stroke-width="0.9"/>
<circle cx="300.00" cy="628.90" r="1.55" fill="none" stroke="#0b9a55" stroke-width="0.9"/>
<circle cx="283.40" cy="635.30" r="1.55" fill="none" stroke="#0b9a55" stroke-width="0.9"/>
<circle cx="289.90" cy="634.70" r="1.55" fill="none" stroke="#0b9a55" stroke-width="0.9"/>
<circle cx="296.90" cy="633.60" r="1.55" fill="none" stroke="#0b9a55" stroke-width="0.9"/>
<circle cx="279.80" cy="639.00" r="1.55" fill="none" stroke="#0b9a55" stroke-width="0.9"/>
<circle cx="286.50" cy="640.40" r="1.55" fill="none" stroke="#0b9a55" stroke-width="0.9"/>
<circle cx="293.50" cy="640.40" r="1.55" fill="none" stroke="#0b9a55" stroke-width="0.9"/>
<circle cx="300.00" cy="641.70" r="1.55" fill="none" stroke="#0b9a55" stroke-width="0.9"/>
<circle cx="286.50" cy="645.50" r="1.55" fill="none" stroke="#0b9a55" stroke-width="0.9"/>
<circle cx="293.50" cy="646.80" r="1.55" fill="none" stroke="#0b9a55" stroke-width="0.9"/>
<circle cx="289.90" cy="651.40" r="1.55" fill="none" stroke="#0b9a55" stroke-width="0.9"/>
<line x1="232.40" y1="602.90" x2="232.40" y2="678.80" stroke="#231f20" stroke-width="1.25"/>
<line x1="231.80" y1="678.20" x2="306.50" y2="678.20" stroke="#231f20" stroke-width="1.25"/>
<line x1="229.00" y1="678.20" x2="232.40" y2="678.20" stroke="#231f20" stroke-width="1.05"/>
<text x="227.80" y="680.85" text-anchor="end" font-size="7.65" fill="#231f20" stroke="#231f20" stroke-width="0.17">0</text>
<line x1="229.00" y1="653.30" x2="232.40" y2="653.30" stroke="#231f20" stroke-width="1.05"/>
<text x="227.80" y="655.95" text-anchor="end" font-size="7.65" fill="#231f20" stroke="#231f20" stroke-width="0.17">10</text>
<line x1="229.00" y1="628.40" x2="232.40" y2="628.40" stroke="#231f20" stroke-width="1.05"/>
<text x="227.80" y="631.05" text-anchor="end" font-size="7.65" fill="#231f20" stroke="#231f20" stroke-width="0.17">20</text>
<line x1="229.00" y1="603.50" x2="232.40" y2="603.50" stroke="#231f20" stroke-width="1.05"/>
<text x="227.80" y="606.15" text-anchor="end" font-size="7.65" fill="#231f20" stroke="#231f20" stroke-width="0.17">30</text>
<text x="268.00" y="598.90" text-anchor="middle" font-size="7.65" fill="#231f20" stroke="#231f20" stroke-width="0.17">CD8<tspan dy="-2.5" font-size="4.8">+</tspan><tspan dy="2.5" font-size="1">&#8203;</tspan> T cells</text>
<text x="215.30" y="637.50" text-anchor="middle" font-size="7.65" fill="#231f20" transform="rotate(-90 215.30 637.50)" stroke="#231f20" stroke-width="0.17">% CD45<tspan dy="-2.7" font-size="6.3">+</tspan><tspan dy="2.7" font-size="1">&#8203;</tspan> cells</text>
<text x="253.50" y="690.60" text-anchor="middle" font-size="7.65" fill="#231f20" stroke="#231f20" stroke-width="0.17">Vehicle</text>
<text x="289.25" y="690.60" text-anchor="middle" font-size="7.65" fill="#231f20" stroke="#231f20" stroke-width="0.17">MRTX1133</text>
<path d="M346.90 677.50V648.00H369.00V677.50" fill="#fff" stroke="#231f20" stroke-width="1.2"/>
<line x1="357.95" y1="677.50" x2="357.95" y2="680.50" stroke="#231f20" stroke-width="1.05"/>
<line x1="357.95" y1="639.40" x2="357.95" y2="655.10" stroke="#231f20" stroke-width="1.05"/>
<line x1="352.75" y1="639.40" x2="363.15" y2="639.40" stroke="#231f20" stroke-width="1.05"/>
<line x1="352.75" y1="655.10" x2="363.15" y2="655.10" stroke="#231f20" stroke-width="1.05"/>
<circle cx="357.80" cy="627.50" r="1.55" fill="none" stroke="#231f20" stroke-width="0.9"/>
<circle cx="357.80" cy="631.60" r="1.55" fill="none" stroke="#231f20" stroke-width="0.9"/>
<circle cx="364.00" cy="642.10" r="1.55" fill="none" stroke="#231f20" stroke-width="0.9"/>
<circle cx="356.20" cy="643.00" r="1.55" fill="none" stroke="#231f20" stroke-width="0.9"/>
<circle cx="352.10" cy="645.00" r="1.55" fill="none" stroke="#231f20" stroke-width="0.9"/>
<circle cx="364.00" cy="645.70" r="1.55" fill="none" stroke="#231f20" stroke-width="0.9"/>
<circle cx="356.20" cy="646.40" r="1.55" fill="none" stroke="#231f20" stroke-width="0.9"/>
<circle cx="347.80" cy="649.70" r="1.55" fill="none" stroke="#231f20" stroke-width="0.9"/>
<circle cx="352.10" cy="649.70" r="1.55" fill="none" stroke="#231f20" stroke-width="0.9"/>
<circle cx="356.20" cy="650.40" r="1.55" fill="none" stroke="#231f20" stroke-width="0.9"/>
<circle cx="347.80" cy="652.40" r="1.55" fill="none" stroke="#231f20" stroke-width="0.9"/>
<circle cx="352.10" cy="652.40" r="1.55" fill="none" stroke="#231f20" stroke-width="0.9"/>
<circle cx="356.20" cy="653.10" r="1.55" fill="none" stroke="#231f20" stroke-width="0.9"/>
<circle cx="360.20" cy="653.40" r="1.55" fill="none" stroke="#231f20" stroke-width="0.9"/>
<circle cx="347.80" cy="655.10" r="1.55" fill="none" stroke="#231f20" stroke-width="0.9"/>
<circle cx="356.20" cy="655.10" r="1.55" fill="none" stroke="#231f20" stroke-width="0.9"/>
<circle cx="364.20" cy="655.10" r="1.55" fill="none" stroke="#231f20" stroke-width="0.9"/>
<circle cx="368.00" cy="653.40" r="1.55" fill="none" stroke="#231f20" stroke-width="0.9"/>
<path d="M382.40 677.50V642.30H404.60V677.50" fill="#fff" stroke="#0b9a55" stroke-width="1.2"/>
<line x1="393.50" y1="677.50" x2="393.50" y2="680.50" stroke="#231f20" stroke-width="1.05"/>
<line x1="393.50" y1="627.30" x2="393.50" y2="656.50" stroke="#0b9a55" stroke-width="1.05"/>
<line x1="387.80" y1="627.30" x2="399.20" y2="627.30" stroke="#0b9a55" stroke-width="1.05"/>
<line x1="387.80" y1="656.50" x2="399.20" y2="656.50" stroke="#0b9a55" stroke-width="1.05"/>
<circle cx="393.40" cy="615.20" r="1.55" fill="none" stroke="#0b9a55" stroke-width="0.9"/>
<circle cx="383.10" cy="627.50" r="1.55" fill="none" stroke="#0b9a55" stroke-width="0.9"/>
<circle cx="403.50" cy="626.20" r="1.55" fill="none" stroke="#0b9a55" stroke-width="0.9"/>
<circle cx="396.80" cy="628.90" r="1.55" fill="none" stroke="#0b9a55" stroke-width="0.9"/>
<circle cx="393.40" cy="632.90" r="1.55" fill="none" stroke="#0b9a55" stroke-width="0.9"/>
<circle cx="393.40" cy="634.90" r="1.55" fill="none" stroke="#0b9a55" stroke-width="0.9"/>
<circle cx="390.10" cy="639.00" r="1.55" fill="none" stroke="#0b9a55" stroke-width="0.9"/>
<circle cx="383.10" cy="642.30" r="1.55" fill="none" stroke="#0b9a55" stroke-width="0.9"/>
<circle cx="390.10" cy="643.40" r="1.55" fill="none" stroke="#0b9a55" stroke-width="0.9"/>
<circle cx="396.80" cy="643.40" r="1.55" fill="none" stroke="#0b9a55" stroke-width="0.9"/>
<circle cx="403.90" cy="641.70" r="1.55" fill="none" stroke="#0b9a55" stroke-width="0.9"/>
<circle cx="390.10" cy="649.30" r="1.55" fill="none" stroke="#0b9a55" stroke-width="0.9"/>
<circle cx="396.80" cy="651.10" r="1.55" fill="none" stroke="#0b9a55" stroke-width="0.9"/>
<circle cx="393.40" cy="659.20" r="1.55" fill="none" stroke="#0b9a55" stroke-width="0.9"/>
<circle cx="396.80" cy="665.00" r="1.55" fill="none" stroke="#0b9a55" stroke-width="0.9"/>
<circle cx="390.10" cy="667.20" r="1.55" fill="none" stroke="#0b9a55" stroke-width="0.9"/>
<line x1="334.25" y1="602.40" x2="334.25" y2="678.10" stroke="#231f20" stroke-width="1.25"/>
<line x1="333.65" y1="677.50" x2="410.00" y2="677.50" stroke="#231f20" stroke-width="1.25"/>
<line x1="330.85" y1="677.50" x2="334.25" y2="677.50" stroke="#231f20" stroke-width="1.05"/>
<text x="329.65" y="680.15" text-anchor="end" font-size="7.65" fill="#231f20" stroke="#231f20" stroke-width="0.17">0.0</text>
<line x1="330.85" y1="658.88" x2="334.25" y2="658.88" stroke="#231f20" stroke-width="1.05"/>
<text x="329.65" y="661.52" text-anchor="end" font-size="7.65" fill="#231f20" stroke="#231f20" stroke-width="0.17">0.5</text>
<line x1="330.85" y1="640.25" x2="334.25" y2="640.25" stroke="#231f20" stroke-width="1.05"/>
<text x="329.65" y="642.90" text-anchor="end" font-size="7.65" fill="#231f20" stroke="#231f20" stroke-width="0.17">1.0</text>
<line x1="330.85" y1="621.62" x2="334.25" y2="621.62" stroke="#231f20" stroke-width="1.05"/>
<text x="329.65" y="624.27" text-anchor="end" font-size="7.65" fill="#231f20" stroke="#231f20" stroke-width="0.17">1.5</text>
<line x1="330.85" y1="603.00" x2="334.25" y2="603.00" stroke="#231f20" stroke-width="1.05"/>
<text x="329.65" y="605.65" text-anchor="end" font-size="7.65" fill="#231f20" stroke="#231f20" stroke-width="0.17">2.0</text>
<text x="369.50" y="598.90" text-anchor="middle" font-size="7.65" fill="#231f20" stroke="#231f20" stroke-width="0.17">TNFα<tspan dy="-2.5" font-size="4.8">+</tspan><tspan dy="2.5" font-size="1">&#8203;</tspan> CD8<tspan dy="-2.5" font-size="4.8">+</tspan><tspan dy="2.5" font-size="1">&#8203;</tspan></text>
<text x="316.80" y="637.50" text-anchor="middle" font-size="7.65" fill="#231f20" transform="rotate(-90 316.80 637.50)" stroke="#231f20" stroke-width="0.17">% CD45<tspan dy="-2.7" font-size="6.3">+</tspan><tspan dy="2.7" font-size="1">&#8203;</tspan> cells</text>
<text x="355.00" y="690.60" text-anchor="middle" font-size="7.65" fill="#231f20" stroke="#231f20" stroke-width="0.17">Vehicle</text>
<text x="393.00" y="690.60" text-anchor="middle" font-size="7.65" fill="#231f20" stroke="#231f20" stroke-width="0.17">MRTX1133</text>
<path d="M449.50 677.80V646.10H471.90V677.80" fill="#fff" stroke="#231f20" stroke-width="1.2"/>
<line x1="460.70" y1="677.80" x2="460.70" y2="680.80" stroke="#231f20" stroke-width="1.05"/>
<line x1="460.70" y1="640.30" x2="460.70" y2="651.80" stroke="#231f20" stroke-width="1.05"/>
<line x1="455.00" y1="640.30" x2="466.40" y2="640.30" stroke="#231f20" stroke-width="1.05"/>
<line x1="455.00" y1="651.80" x2="466.40" y2="651.80" stroke="#231f20" stroke-width="1.05"/>
<circle cx="460.80" cy="629.10" r="1.55" fill="none" stroke="#231f20" stroke-width="0.9"/>
<circle cx="455.10" cy="642.10" r="1.55" fill="none" stroke="#231f20" stroke-width="0.9"/>
<circle cx="463.20" cy="641.30" r="1.55" fill="none" stroke="#231f20" stroke-width="0.9"/>
<circle cx="471.00" cy="642.60" r="1.55" fill="none" stroke="#231f20" stroke-width="0.9"/>
<circle cx="450.80" cy="645.00" r="1.55" fill="none" stroke="#231f20" stroke-width="0.9"/>
<circle cx="459.20" cy="644.40" r="1.55" fill="none" stroke="#231f20" stroke-width="0.9"/>
<circle cx="467.20" cy="645.00" r="1.55" fill="none" stroke="#231f20" stroke-width="0.9"/>
<circle cx="455.10" cy="647.00" r="1.55" fill="none" stroke="#231f20" stroke-width="0.9"/>
<circle cx="463.20" cy="646.40" r="1.55" fill="none" stroke="#231f20" stroke-width="0.9"/>
<circle cx="471.00" cy="647.70" r="1.55" fill="none" stroke="#231f20" stroke-width="0.9"/>
<circle cx="450.80" cy="649.10" r="1.55" fill="none" stroke="#231f20" stroke-width="0.9"/>
<circle cx="459.20" cy="648.80" r="1.55" fill="none" stroke="#231f20" stroke-width="0.9"/>
<circle cx="467.20" cy="648.80" r="1.55" fill="none" stroke="#231f20" stroke-width="0.9"/>
<circle cx="455.10" cy="651.10" r="1.55" fill="none" stroke="#231f20" stroke-width="0.9"/>
<circle cx="463.20" cy="651.10" r="1.55" fill="none" stroke="#231f20" stroke-width="0.9"/>
<circle cx="459.20" cy="653.10" r="1.55" fill="none" stroke="#231f20" stroke-width="0.9"/>
<circle cx="463.20" cy="653.40" r="1.55" fill="none" stroke="#231f20" stroke-width="0.9"/>
<circle cx="459.20" cy="655.10" r="1.55" fill="none" stroke="#231f20" stroke-width="0.9"/>
<path d="M485.10 677.80V632.20H507.50V677.80" fill="#fff" stroke="#0b9a55" stroke-width="1.2"/>
<line x1="496.30" y1="677.80" x2="496.30" y2="680.80" stroke="#231f20" stroke-width="1.05"/>
<line x1="496.30" y1="620.10" x2="496.30" y2="642.30" stroke="#0b9a55" stroke-width="1.05"/>
<line x1="490.60" y1="620.10" x2="502.00" y2="620.10" stroke="#0b9a55" stroke-width="1.05"/>
<line x1="490.60" y1="642.30" x2="502.00" y2="642.30" stroke="#0b9a55" stroke-width="1.05"/>
<circle cx="496.40" cy="612.10" r="1.55" fill="none" stroke="#0b9a55" stroke-width="0.9"/>
<circle cx="496.40" cy="616.50" r="1.55" fill="none" stroke="#0b9a55" stroke-width="0.9"/>
<circle cx="490.80" cy="619.50" r="1.55" fill="none" stroke="#0b9a55" stroke-width="0.9"/>
<circle cx="501.50" cy="622.40" r="1.55" fill="none" stroke="#0b9a55" stroke-width="0.9"/>
<circle cx="496.40" cy="624.20" r="1.55" fill="none" stroke="#0b9a55" stroke-width="0.9"/>
<circle cx="501.50" cy="627.50" r="1.55" fill="none" stroke="#0b9a55" stroke-width="0.9"/>
<circle cx="496.40" cy="628.20" r="1.55" fill="none" stroke="#0b9a55" stroke-width="0.9"/>
<circle cx="490.80" cy="631.60" r="1.55" fill="none" stroke="#0b9a55" stroke-width="0.9"/>
<circle cx="496.40" cy="631.60" r="1.55" fill="none" stroke="#0b9a55" stroke-width="0.9"/>
<circle cx="486.30" cy="634.90" r="1.55" fill="none" stroke="#0b9a55" stroke-width="0.9"/>
<circle cx="490.80" cy="635.90" r="1.55" fill="none" stroke="#0b9a55" stroke-width="0.9"/>
<circle cx="496.40" cy="636.30" r="1.55" fill="none" stroke="#0b9a55" stroke-width="0.9"/>
<circle cx="501.50" cy="635.90" r="1.55" fill="none" stroke="#0b9a55" stroke-width="0.9"/>
<circle cx="506.50" cy="634.90" r="1.55" fill="none" stroke="#0b9a55" stroke-width="0.9"/>
<circle cx="494.10" cy="642.30" r="1.55" fill="none" stroke="#0b9a55" stroke-width="0.9"/>
<circle cx="498.90" cy="645.00" r="1.55" fill="none" stroke="#0b9a55" stroke-width="0.9"/>
<circle cx="496.40" cy="656.90" r="1.55" fill="none" stroke="#0b9a55" stroke-width="0.9"/>
<line x1="437.30" y1="602.40" x2="437.30" y2="678.40" stroke="#231f20" stroke-width="1.25"/>
<line x1="436.70" y1="677.80" x2="512.50" y2="677.80" stroke="#231f20" stroke-width="1.25"/>
<line x1="433.90" y1="677.50" x2="437.30" y2="677.50" stroke="#231f20" stroke-width="1.05"/>
<text x="432.70" y="680.15" text-anchor="end" font-size="7.65" fill="#231f20" stroke="#231f20" stroke-width="0.17">0.0</text>
<line x1="433.90" y1="658.88" x2="437.30" y2="658.88" stroke="#231f20" stroke-width="1.05"/>
<text x="432.70" y="661.52" text-anchor="end" font-size="7.65" fill="#231f20" stroke="#231f20" stroke-width="0.17">0.5</text>
<line x1="433.90" y1="640.25" x2="437.30" y2="640.25" stroke="#231f20" stroke-width="1.05"/>
<text x="432.70" y="642.90" text-anchor="end" font-size="7.65" fill="#231f20" stroke="#231f20" stroke-width="0.17">1.0</text>
<line x1="433.90" y1="621.62" x2="437.30" y2="621.62" stroke="#231f20" stroke-width="1.05"/>
<text x="432.70" y="624.27" text-anchor="end" font-size="7.65" fill="#231f20" stroke="#231f20" stroke-width="0.17">1.5</text>
<line x1="433.90" y1="603.00" x2="437.30" y2="603.00" stroke="#231f20" stroke-width="1.05"/>
<text x="432.70" y="605.65" text-anchor="end" font-size="7.65" fill="#231f20" stroke="#231f20" stroke-width="0.17">2.0</text>
<text x="472.00" y="598.90" text-anchor="middle" font-size="7.65" fill="#231f20" stroke="#231f20" stroke-width="0.17">IFNγ<tspan dy="-2.5" font-size="4.8">+</tspan><tspan dy="2.5" font-size="1">&#8203;</tspan> CD8<tspan dy="-2.5" font-size="4.8">+</tspan><tspan dy="2.5" font-size="1">&#8203;</tspan></text>
<text x="420.60" y="637.50" text-anchor="middle" font-size="7.65" fill="#231f20" transform="rotate(-90 420.60 637.50)" stroke="#231f20" stroke-width="0.17">% CD45<tspan dy="-2.7" font-size="6.3">+</tspan><tspan dy="2.7" font-size="1">&#8203;</tspan> cells</text>
<text x="458.00" y="690.60" text-anchor="middle" font-size="7.65" fill="#231f20" stroke="#231f20" stroke-width="0.17">Vehicle</text>
<text x="495.50" y="690.60" text-anchor="middle" font-size="7.65" fill="#231f20" stroke="#231f20" stroke-width="0.17">MRTX1133</text>
<text x="446.30" y="623.60" text-anchor="start" font-size="6.8" fill="#231f20" stroke="#231f20" stroke-width="0.17"><tspan font-style="italic">P</tspan><tspan dx="1.3">=</tspan><tspan dx="1.3">0.0001</tspan></text>
</svg>
</body></html>
